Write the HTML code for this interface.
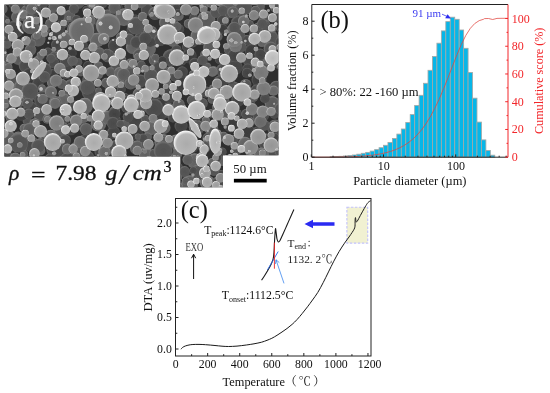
<!DOCTYPE html>
<html lang="en"><head><meta charset="utf-8"><title>Figure</title>
<style>
html,body{margin:0;padding:0;background:#fff;}
body{width:550px;height:393px;overflow:hidden;}
svg{display:block;}
text{font-family:"Liberation Serif","Noto Serif CJK SC",serif;}
.cjk{font-family:"Liberation Serif","Noto Serif CJK SC",serif;}
</style></head><body>
<svg width="550" height="393" viewBox="0 0 550 393">
<rect x="0" y="0" width="550" height="393" fill="#ffffff"/>

<defs>
<radialGradient id="s64" cx="0.53" cy="0.55" r="0.6"><stop offset="0" stop-color="rgb(59,59,59)"/><stop offset="0.68" stop-color="rgb(64,64,64)"/><stop offset="0.89" stop-color="rgb(92,92,92)"/><stop offset="1" stop-color="rgb(73,73,73)"/></radialGradient>
<radialGradient id="s72" cx="0.53" cy="0.55" r="0.6"><stop offset="0" stop-color="rgb(66,66,66)"/><stop offset="0.68" stop-color="rgb(72,72,72)"/><stop offset="0.89" stop-color="rgb(100,100,100)"/><stop offset="1" stop-color="rgb(80,80,80)"/></radialGradient>
<radialGradient id="s80" cx="0.53" cy="0.55" r="0.6"><stop offset="0" stop-color="rgb(74,74,74)"/><stop offset="0.68" stop-color="rgb(79,79,79)"/><stop offset="0.89" stop-color="rgb(108,108,108)"/><stop offset="1" stop-color="rgb(88,88,88)"/></radialGradient>
<radialGradient id="s88" cx="0.53" cy="0.55" r="0.6"><stop offset="0" stop-color="rgb(81,81,81)"/><stop offset="0.68" stop-color="rgb(87,87,87)"/><stop offset="0.89" stop-color="rgb(118,118,118)"/><stop offset="1" stop-color="rgb(97,97,97)"/></radialGradient>
<radialGradient id="s96" cx="0.53" cy="0.55" r="0.6"><stop offset="0" stop-color="rgb(89,89,89)"/><stop offset="0.68" stop-color="rgb(95,95,95)"/><stop offset="0.89" stop-color="rgb(127,127,127)"/><stop offset="1" stop-color="rgb(105,105,105)"/></radialGradient>
<radialGradient id="s104" cx="0.53" cy="0.55" r="0.6"><stop offset="0" stop-color="rgb(96,96,96)"/><stop offset="0.68" stop-color="rgb(103,103,103)"/><stop offset="0.89" stop-color="rgb(137,137,137)"/><stop offset="1" stop-color="rgb(114,114,114)"/></radialGradient>
<radialGradient id="s112" cx="0.53" cy="0.55" r="0.6"><stop offset="0" stop-color="rgb(104,104,104)"/><stop offset="0.68" stop-color="rgb(110,110,110)"/><stop offset="0.89" stop-color="rgb(148,148,148)"/><stop offset="1" stop-color="rgb(123,123,123)"/></radialGradient>
<radialGradient id="s120" cx="0.53" cy="0.55" r="0.6"><stop offset="0" stop-color="rgb(111,111,111)"/><stop offset="0.68" stop-color="rgb(118,118,118)"/><stop offset="0.89" stop-color="rgb(158,158,158)"/><stop offset="1" stop-color="rgb(132,132,132)"/></radialGradient>
<radialGradient id="s128" cx="0.53" cy="0.55" r="0.6"><stop offset="0" stop-color="rgb(119,119,119)"/><stop offset="0.68" stop-color="rgb(126,126,126)"/><stop offset="0.89" stop-color="rgb(170,170,170)"/><stop offset="1" stop-color="rgb(142,142,142)"/></radialGradient>
<radialGradient id="s136" cx="0.53" cy="0.55" r="0.6"><stop offset="0" stop-color="rgb(126,126,126)"/><stop offset="0.68" stop-color="rgb(134,134,134)"/><stop offset="0.89" stop-color="rgb(182,182,182)"/><stop offset="1" stop-color="rgb(151,151,151)"/></radialGradient>
<radialGradient id="s144" cx="0.53" cy="0.55" r="0.6"><stop offset="0" stop-color="rgb(134,134,134)"/><stop offset="0.68" stop-color="rgb(142,142,142)"/><stop offset="0.89" stop-color="rgb(194,194,194)"/><stop offset="1" stop-color="rgb(161,161,161)"/></radialGradient>
<radialGradient id="s152" cx="0.53" cy="0.55" r="0.6"><stop offset="0" stop-color="rgb(141,141,141)"/><stop offset="0.68" stop-color="rgb(151,151,151)"/><stop offset="0.89" stop-color="rgb(206,206,206)"/><stop offset="1" stop-color="rgb(171,171,171)"/></radialGradient>
<radialGradient id="s160" cx="0.53" cy="0.55" r="0.6"><stop offset="0" stop-color="rgb(149,149,149)"/><stop offset="0.68" stop-color="rgb(159,159,159)"/><stop offset="0.89" stop-color="rgb(219,219,219)"/><stop offset="1" stop-color="rgb(181,181,181)"/></radialGradient>
<radialGradient id="s168" cx="0.53" cy="0.55" r="0.6"><stop offset="0" stop-color="rgb(156,156,156)"/><stop offset="0.68" stop-color="rgb(167,167,167)"/><stop offset="0.89" stop-color="rgb(233,233,233)"/><stop offset="1" stop-color="rgb(192,192,192)"/></radialGradient>
<radialGradient id="s176" cx="0.53" cy="0.55" r="0.6"><stop offset="0" stop-color="rgb(164,164,164)"/><stop offset="0.68" stop-color="rgb(175,175,175)"/><stop offset="0.89" stop-color="rgb(247,247,247)"/><stop offset="1" stop-color="rgb(203,203,203)"/></radialGradient>
<radialGradient id="s184" cx="0.53" cy="0.55" r="0.6"><stop offset="0" stop-color="rgb(171,171,171)"/><stop offset="0.68" stop-color="rgb(183,183,183)"/><stop offset="0.89" stop-color="rgb(252,252,252)"/><stop offset="1" stop-color="rgb(213,213,213)"/></radialGradient>
<radialGradient id="s192" cx="0.53" cy="0.55" r="0.6"><stop offset="0" stop-color="rgb(179,179,179)"/><stop offset="0.68" stop-color="rgb(192,192,192)"/><stop offset="0.89" stop-color="rgb(252,252,252)"/><stop offset="1" stop-color="rgb(225,225,225)"/></radialGradient>
<radialGradient id="s200" cx="0.53" cy="0.55" r="0.6"><stop offset="0" stop-color="rgb(186,186,186)"/><stop offset="0.68" stop-color="rgb(200,200,200)"/><stop offset="0.89" stop-color="rgb(252,252,252)"/><stop offset="1" stop-color="rgb(236,236,236)"/></radialGradient>
<radialGradient id="s208" cx="0.53" cy="0.55" r="0.6"><stop offset="0" stop-color="rgb(194,194,194)"/><stop offset="0.68" stop-color="rgb(209,209,209)"/><stop offset="0.89" stop-color="rgb(252,252,252)"/><stop offset="1" stop-color="rgb(244,244,244)"/></radialGradient>
<clipPath id="semclip"><path d="M4.4 4.4 H278.4 V155.2 H223 V187.3 H180.3 V156.6 H4.4 Z"/></clipPath>
<filter id="sb" x="-5%" y="-5%" width="110%" height="110%"><feGaussianBlur stdDeviation="0.6"/></filter>
</defs>
<g id="sem" clip-path="url(#semclip)">
<rect x="0" y="0" width="285" height="190" fill="#2f2f2f"/>
<g filter="url(#sb)">
<circle cx="176.3" cy="142.4" r="8.0" fill="url(#s104)"/>
<circle cx="266.7" cy="142.1" r="8.6" fill="url(#s80)"/>
<circle cx="8.2" cy="89.4" r="8.7" fill="url(#s96)"/>
<circle cx="183.7" cy="173.0" r="4.6" fill="url(#s64)"/>
<circle cx="132.7" cy="47.3" r="6.7" fill="url(#s104)"/>
<circle cx="162.4" cy="2.5" r="5.1" fill="url(#s96)"/>
<circle cx="79.1" cy="175.9" r="7.8" fill="url(#s88)"/>
<circle cx="174.7" cy="24.3" r="4.0" fill="url(#s80)"/>
<circle cx="246.6" cy="40.2" r="5.1" fill="url(#s80)"/>
<circle cx="278.0" cy="167.5" r="5.4" fill="url(#s80)"/>
<circle cx="272.1" cy="103.5" r="7.4" fill="url(#s96)"/>
<circle cx="58.0" cy="180.7" r="7.5" fill="url(#s96)"/>
<circle cx="102.2" cy="31.9" r="4.7" fill="url(#s72)"/>
<circle cx="18.4" cy="57.9" r="7.0" fill="url(#s96)"/>
<circle cx="1.0" cy="130.2" r="5.7" fill="url(#s88)"/>
<circle cx="87.7" cy="157.2" r="6.4" fill="url(#s80)"/>
<circle cx="89.4" cy="92.4" r="7.5" fill="url(#s80)"/>
<circle cx="16.1" cy="187.2" r="4.1" fill="url(#s80)"/>
<circle cx="212.2" cy="162.2" r="4.1" fill="url(#s104)"/>
<circle cx="222.9" cy="70.3" r="6.9" fill="url(#s80)"/>
<circle cx="2.6" cy="9.0" r="4.9" fill="url(#s96)"/>
<circle cx="270.3" cy="37.7" r="7.8" fill="url(#s88)"/>
<circle cx="263.1" cy="180.9" r="5.7" fill="url(#s96)"/>
<circle cx="100.4" cy="100.7" r="7.9" fill="url(#s96)"/>
<circle cx="30.6" cy="143.7" r="8.0" fill="url(#s80)"/>
<circle cx="243.3" cy="7.0" r="8.7" fill="url(#s88)"/>
<circle cx="25.8" cy="65.4" r="7.1" fill="url(#s80)"/>
<circle cx="259.8" cy="65.3" r="8.6" fill="url(#s88)"/>
<circle cx="154.3" cy="60.0" r="5.6" fill="url(#s96)"/>
<circle cx="50.2" cy="15.0" r="4.7" fill="url(#s80)"/>
<circle cx="195.0" cy="191.4" r="4.8" fill="url(#s80)"/>
<circle cx="114.9" cy="45.6" r="7.0" fill="url(#s72)"/>
<circle cx="233.8" cy="87.5" r="6.1" fill="url(#s88)"/>
<circle cx="15.8" cy="175.9" r="4.2" fill="url(#s72)"/>
<circle cx="139.7" cy="161.0" r="4.7" fill="url(#s64)"/>
<circle cx="207.1" cy="182.4" r="7.2" fill="url(#s104)"/>
<circle cx="223.0" cy="20.5" r="6.2" fill="url(#s72)"/>
<circle cx="42.2" cy="162.2" r="5.5" fill="url(#s88)"/>
<circle cx="128.2" cy="191.9" r="8.3" fill="url(#s72)"/>
<circle cx="276.2" cy="87.1" r="6.4" fill="url(#s88)"/>
<circle cx="206.4" cy="92.0" r="5.5" fill="url(#s80)"/>
<circle cx="114.3" cy="28.1" r="5.9" fill="url(#s88)"/>
<circle cx="279.7" cy="184.3" r="7.1" fill="url(#s104)"/>
<circle cx="141.3" cy="65.0" r="4.4" fill="url(#s88)"/>
<circle cx="77.1" cy="150.1" r="8.3" fill="url(#s96)"/>
<circle cx="102.3" cy="150.9" r="7.9" fill="url(#s72)"/>
<circle cx="196.6" cy="127.5" r="7.8" fill="url(#s88)"/>
<circle cx="102.9" cy="135.3" r="5.4" fill="url(#s80)"/>
<circle cx="137.4" cy="147.8" r="7.5" fill="url(#s96)"/>
<circle cx="70.9" cy="129.0" r="6.3" fill="url(#s72)"/>
<circle cx="231.1" cy="124.3" r="8.0" fill="url(#s64)"/>
<circle cx="98.5" cy="123.7" r="7.7" fill="url(#s104)"/>
<circle cx="234.4" cy="67.2" r="8.2" fill="url(#s72)"/>
<circle cx="246.2" cy="132.2" r="8.9" fill="url(#s64)"/>
<circle cx="135.1" cy="132.8" r="7.6" fill="url(#s64)"/>
<circle cx="206.7" cy="33.0" r="7.9" fill="url(#s96)"/>
<circle cx="164.4" cy="127.8" r="6.1" fill="url(#s96)"/>
<circle cx="203.9" cy="5.3" r="4.8" fill="url(#s104)"/>
<circle cx="124.8" cy="124.8" r="5.1" fill="url(#s96)"/>
<circle cx="37.8" cy="60.9" r="4.9" fill="url(#s104)"/>
<circle cx="54.7" cy="6.8" r="6.3" fill="url(#s96)"/>
<circle cx="107.6" cy="117.5" r="7.0" fill="url(#s104)"/>
<circle cx="67.3" cy="173.4" r="4.0" fill="url(#s104)"/>
<circle cx="32.6" cy="159.6" r="5.9" fill="url(#s64)"/>
<circle cx="10.2" cy="117.8" r="4.5" fill="url(#s96)"/>
<circle cx="271.2" cy="157.2" r="6.1" fill="url(#s80)"/>
<circle cx="40.2" cy="114.4" r="6.8" fill="url(#s88)"/>
<circle cx="99.4" cy="171.5" r="4.0" fill="url(#s96)"/>
<circle cx="30.5" cy="108.6" r="7.1" fill="url(#s72)"/>
<circle cx="106.4" cy="82.9" r="5.1" fill="url(#s96)"/>
<circle cx="82.5" cy="186.7" r="5.9" fill="url(#s64)"/>
<circle cx="272.0" cy="175.4" r="7.0" fill="url(#s80)"/>
<circle cx="73.5" cy="188.3" r="6.5" fill="url(#s80)"/>
<circle cx="117.6" cy="61.3" r="8.9" fill="url(#s88)"/>
<circle cx="139.2" cy="55.0" r="6.4" fill="url(#s88)"/>
<circle cx="3.7" cy="102.3" r="5.4" fill="url(#s104)"/>
<circle cx="75.8" cy="29.7" r="8.9" fill="url(#s96)"/>
<circle cx="83.0" cy="116.7" r="6.4" fill="url(#s104)"/>
<circle cx="182.5" cy="115.9" r="7.7" fill="url(#s104)"/>
<circle cx="150.0" cy="89.2" r="5.8" fill="url(#s80)"/>
<circle cx="210.8" cy="113.4" r="4.2" fill="url(#s104)"/>
<circle cx="71.4" cy="87.5" r="8.6" fill="url(#s88)"/>
<circle cx="251.3" cy="104.8" r="4.1" fill="url(#s72)"/>
<circle cx="220.3" cy="82.1" r="6.9" fill="url(#s72)"/>
<circle cx="196.6" cy="83.1" r="5.4" fill="url(#s96)"/>
<circle cx="220.9" cy="174.8" r="4.7" fill="url(#s72)"/>
<circle cx="135.4" cy="105.4" r="6.5" fill="url(#s96)"/>
<circle cx="93.6" cy="29.5" r="6.9" fill="url(#s64)"/>
<circle cx="229.7" cy="13.1" r="5.2" fill="url(#s88)"/>
<circle cx="7.2" cy="138.7" r="8.9" fill="url(#s96)"/>
<circle cx="282.5" cy="134.6" r="4.2" fill="url(#s88)"/>
<circle cx="176.1" cy="8.4" r="4.5" fill="url(#s72)"/>
<circle cx="107.3" cy="13.8" r="4.3" fill="url(#s96)"/>
<circle cx="162.8" cy="142.5" r="8.4" fill="url(#s96)"/>
<circle cx="38.0" cy="82.9" r="5.6" fill="url(#s72)"/>
<circle cx="169.9" cy="94.0" r="8.7" fill="url(#s72)"/>
<circle cx="74.5" cy="105.9" r="5.3" fill="url(#s80)"/>
<circle cx="212.4" cy="99.3" r="4.7" fill="url(#s96)"/>
<circle cx="66.3" cy="71.3" r="7.7" fill="url(#s72)"/>
<circle cx="50.7" cy="137.0" r="7.3" fill="url(#s104)"/>
<circle cx="24.1" cy="128.2" r="4.5" fill="url(#s104)"/>
<circle cx="248.2" cy="92.2" r="5.6" fill="url(#s104)"/>
<circle cx="15.2" cy="29.0" r="8.8" fill="url(#s72)"/>
<circle cx="192.8" cy="42.8" r="4.6" fill="url(#s80)"/>
<circle cx="275.3" cy="127.7" r="8.1" fill="url(#s80)"/>
<circle cx="98.7" cy="74.1" r="4.7" fill="url(#s104)"/>
<circle cx="122.7" cy="163.5" r="6.6" fill="url(#s72)"/>
<circle cx="167.7" cy="110.1" r="7.7" fill="url(#s80)"/>
<circle cx="111.9" cy="18.6" r="4.2" fill="url(#s88)"/>
<circle cx="133.1" cy="170.8" r="7.1" fill="url(#s72)"/>
<circle cx="121.3" cy="89.4" r="4.5" fill="url(#s72)"/>
<circle cx="43.8" cy="30.5" r="5.9" fill="url(#s88)"/>
<circle cx="109.1" cy="169.0" r="4.8" fill="url(#s72)"/>
<circle cx="71.9" cy="53.3" r="4.8" fill="url(#s64)"/>
<circle cx="81.2" cy="45.2" r="6.4" fill="url(#s72)"/>
<circle cx="133.5" cy="181.5" r="4.6" fill="url(#s88)"/>
<circle cx="189.2" cy="55.9" r="7.4" fill="url(#s64)"/>
<circle cx="7.1" cy="44.3" r="4.4" fill="url(#s96)"/>
<circle cx="113.5" cy="186.9" r="5.8" fill="url(#s88)"/>
<circle cx="207.3" cy="137.8" r="4.8" fill="url(#s80)"/>
<circle cx="182.8" cy="82.7" r="8.9" fill="url(#s64)"/>
<circle cx="116.1" cy="8.6" r="6.7" fill="url(#s64)"/>
<circle cx="26.5" cy="13.7" r="8.5" fill="url(#s96)"/>
<circle cx="86.6" cy="9.9" r="4.2" fill="url(#s72)"/>
<circle cx="113.9" cy="102.0" r="4.4" fill="url(#s96)"/>
<circle cx="88.8" cy="20.7" r="6.7" fill="url(#s104)"/>
<circle cx="260.7" cy="114.9" r="8.3" fill="url(#s80)"/>
<circle cx="63.4" cy="22.2" r="5.6" fill="url(#s80)"/>
<circle cx="69.3" cy="16.2" r="6.1" fill="url(#s96)"/>
<circle cx="80.9" cy="71.8" r="4.5" fill="url(#s96)"/>
<circle cx="157.4" cy="172.0" r="7.3" fill="url(#s96)"/>
<circle cx="216.2" cy="107.0" r="4.1" fill="url(#s96)"/>
<circle cx="243.3" cy="182.3" r="7.1" fill="url(#s104)"/>
<circle cx="93.5" cy="2.4" r="6.9" fill="url(#s104)"/>
<circle cx="234.0" cy="139.6" r="4.5" fill="url(#s88)"/>
<circle cx="150.1" cy="32.9" r="7.5" fill="url(#s88)"/>
<circle cx="130.5" cy="83.4" r="6.2" fill="url(#s96)"/>
<circle cx="274.4" cy="114.4" r="4.5" fill="url(#s80)"/>
<circle cx="230.4" cy="80.5" r="4.3" fill="url(#s80)"/>
<circle cx="276.8" cy="6.3" r="6.9" fill="url(#s88)"/>
<circle cx="61.0" cy="53.2" r="5.0" fill="url(#s80)"/>
<circle cx="159.2" cy="68.5" r="7.8" fill="url(#s80)"/>
<circle cx="174.9" cy="77.0" r="4.7" fill="url(#s80)"/>
<circle cx="176.3" cy="153.7" r="5.9" fill="url(#s104)"/>
<circle cx="52.3" cy="74.7" r="5.6" fill="url(#s64)"/>
<circle cx="7.7" cy="59.9" r="5.9" fill="url(#s88)"/>
<circle cx="192.3" cy="100.3" r="5.4" fill="url(#s96)"/>
<circle cx="189.6" cy="183.7" r="8.5" fill="url(#s96)"/>
<circle cx="194.6" cy="160.9" r="7.7" fill="url(#s104)"/>
<circle cx="172.9" cy="40.1" r="6.6" fill="url(#s104)"/>
<circle cx="153.9" cy="75.5" r="4.0" fill="url(#s104)"/>
<circle cx="254.6" cy="174.8" r="7.1" fill="url(#s80)"/>
<circle cx="235.0" cy="168.7" r="7.6" fill="url(#s72)"/>
<circle cx="118.0" cy="81.7" r="6.6" fill="url(#s104)"/>
<circle cx="171.3" cy="185.6" r="4.9" fill="url(#s96)"/>
<circle cx="134.9" cy="19.4" r="5.0" fill="url(#s64)"/>
<circle cx="108.1" cy="55.8" r="6.5" fill="url(#s88)"/>
<circle cx="146.9" cy="9.7" r="6.1" fill="url(#s80)"/>
<circle cx="264.3" cy="17.6" r="5.8" fill="url(#s88)"/>
<circle cx="229.5" cy="1.0" r="7.8" fill="url(#s96)"/>
<circle cx="102.2" cy="3.2" r="5.3" fill="url(#s80)"/>
<circle cx="129.7" cy="73.5" r="6.6" fill="url(#s88)"/>
<circle cx="214.0" cy="171.2" r="4.7" fill="url(#s88)"/>
<circle cx="281.4" cy="41.6" r="6.1" fill="url(#s72)"/>
<circle cx="188.6" cy="23.7" r="4.8" fill="url(#s96)"/>
<circle cx="5.2" cy="159.0" r="8.8" fill="url(#s80)"/>
<circle cx="52.3" cy="82.4" r="5.3" fill="url(#s104)"/>
<circle cx="43.0" cy="99.5" r="8.9" fill="url(#s72)"/>
<circle cx="182.1" cy="72.0" r="5.8" fill="url(#s72)"/>
<circle cx="21.9" cy="86.2" r="7.7" fill="url(#s96)"/>
<circle cx="84.7" cy="105.9" r="8.1" fill="url(#s104)"/>
<circle cx="160.2" cy="39.8" r="6.3" fill="url(#s80)"/>
<circle cx="16.9" cy="16.9" r="5.7" fill="url(#s96)"/>
<circle cx="40.7" cy="185.8" r="5.3" fill="url(#s88)"/>
<circle cx="253.9" cy="34.0" r="4.7" fill="url(#s80)"/>
<circle cx="166.6" cy="22.6" r="7.6" fill="url(#s96)"/>
<circle cx="173.0" cy="117.5" r="5.1" fill="url(#s80)"/>
<circle cx="193.6" cy="17.8" r="4.3" fill="url(#s80)"/>
<circle cx="238.7" cy="23.1" r="7.8" fill="url(#s80)"/>
<circle cx="131.7" cy="29.8" r="5.1" fill="url(#s72)"/>
<circle cx="258.1" cy="27.9" r="5.3" fill="url(#s88)"/>
<circle cx="222.0" cy="160.5" r="5.5" fill="url(#s104)"/>
<circle cx="30.5" cy="49.8" r="5.8" fill="url(#s96)"/>
<circle cx="251.8" cy="50.8" r="7.1" fill="url(#s64)"/>
<circle cx="18.2" cy="137.6" r="6.1" fill="url(#s96)"/>
<circle cx="253.7" cy="97.2" r="4.5" fill="url(#s96)"/>
<circle cx="144.8" cy="179.2" r="8.7" fill="url(#s80)"/>
<circle cx="265.7" cy="89.5" r="6.2" fill="url(#s72)"/>
<circle cx="38.0" cy="38.9" r="7.5" fill="url(#s96)"/>
<circle cx="206.3" cy="19.7" r="9.0" fill="url(#s96)"/>
<circle cx="260.2" cy="54.2" r="5.7" fill="url(#s72)"/>
<circle cx="248.2" cy="25.5" r="6.1" fill="url(#s88)"/>
<circle cx="0.3" cy="181.2" r="5.6" fill="url(#s72)"/>
<circle cx="140.0" cy="0.2" r="8.0" fill="url(#s96)"/>
<circle cx="67.4" cy="159.2" r="7.3" fill="url(#s80)"/>
<circle cx="77.5" cy="1.9" r="7.3" fill="url(#s88)"/>
<circle cx="125.8" cy="131.7" r="4.3" fill="url(#s80)"/>
<circle cx="16.1" cy="2.8" r="7.8" fill="url(#s72)"/>
<circle cx="62.3" cy="0.6" r="6.1" fill="url(#s80)"/>
<circle cx="84.9" cy="139.9" r="5.9" fill="url(#s72)"/>
<circle cx="54.0" cy="62.9" r="5.3" fill="url(#s80)"/>
<circle cx="193.0" cy="147.7" r="5.0" fill="url(#s72)"/>
<circle cx="151.0" cy="161.3" r="5.8" fill="url(#s80)"/>
<circle cx="40.7" cy="55.3" r="4.0" fill="url(#s104)"/>
<circle cx="232.9" cy="44.1" r="5.5" fill="url(#s104)"/>
<circle cx="87.6" cy="130.1" r="4.6" fill="url(#s72)"/>
<circle cx="97.9" cy="181.4" r="4.4" fill="url(#s80)"/>
<circle cx="96.9" cy="40.1" r="7.4" fill="url(#s104)"/>
<circle cx="126.2" cy="140.9" r="4.2" fill="url(#s72)"/>
<circle cx="80.5" cy="126.1" r="4.2" fill="url(#s88)"/>
<circle cx="50.2" cy="91.1" r="5.6" fill="url(#s80)"/>
<circle cx="282.2" cy="25.0" r="7.7" fill="url(#s64)"/>
<circle cx="220.4" cy="58.8" r="5.7" fill="url(#s72)"/>
<circle cx="279.9" cy="151.3" r="5.1" fill="url(#s88)"/>
<circle cx="129.1" cy="6.2" r="4.6" fill="url(#s104)"/>
<circle cx="236.5" cy="150.3" r="5.3" fill="url(#s88)"/>
<circle cx="47.9" cy="51.8" r="4.3" fill="url(#s80)"/>
<circle cx="42.3" cy="1.7" r="6.9" fill="url(#s80)"/>
<circle cx="64.6" cy="39.4" r="7.3" fill="url(#s104)"/>
<circle cx="158.4" cy="116.2" r="7.3" fill="url(#s72)"/>
<circle cx="88.4" cy="53.6" r="6.4" fill="url(#s80)"/>
<circle cx="126.3" cy="107.6" r="5.0" fill="url(#s80)"/>
<circle cx="28.9" cy="178.4" r="4.1" fill="url(#s80)"/>
<circle cx="218.1" cy="183.6" r="7.1" fill="url(#s80)"/>
<circle cx="204.4" cy="146.9" r="6.3" fill="url(#s88)"/>
<circle cx="280.6" cy="62.2" r="7.6" fill="url(#s80)"/>
<circle cx="120.7" cy="175.4" r="8.7" fill="url(#s80)"/>
<circle cx="150.5" cy="128.2" r="7.2" fill="url(#s104)"/>
<circle cx="139.7" cy="94.8" r="7.3" fill="url(#s96)"/>
<circle cx="40.8" cy="150.8" r="4.5" fill="url(#s104)"/>
<circle cx="147.5" cy="70.4" r="4.7" fill="url(#s72)"/>
<circle cx="66.1" cy="60.2" r="6.5" fill="url(#s80)"/>
<circle cx="188.0" cy="9.7" r="6.1" fill="url(#s72)"/>
<circle cx="236.8" cy="113.9" r="5.0" fill="url(#s72)"/>
<circle cx="257.1" cy="130.7" r="4.2" fill="url(#s72)"/>
<circle cx="98.4" cy="66.3" r="4.9" fill="url(#s104)"/>
<circle cx="63.7" cy="99.1" r="5.9" fill="url(#s104)"/>
<circle cx="8.8" cy="169.0" r="4.5" fill="url(#s80)"/>
<circle cx="121.1" cy="37.3" r="5.1" fill="url(#s96)"/>
<circle cx="223.5" cy="136.7" r="5.0" fill="url(#s96)"/>
<circle cx="194.5" cy="63.1" r="5.3" fill="url(#s72)"/>
<circle cx="235.5" cy="55.2" r="7.1" fill="url(#s80)"/>
<circle cx="140.5" cy="81.0" r="6.4" fill="url(#s80)"/>
<circle cx="206.8" cy="67.1" r="4.6" fill="url(#s96)"/>
<circle cx="61.0" cy="128.3" r="7.5" fill="url(#s96)"/>
<circle cx="223.7" cy="113.0" r="8.9" fill="url(#s96)"/>
<circle cx="64.7" cy="140.4" r="6.2" fill="url(#s80)"/>
<circle cx="193.1" cy="74.3" r="4.2" fill="url(#s96)"/>
<circle cx="245.0" cy="160.2" r="4.0" fill="url(#s72)"/>
<circle cx="196.8" cy="35.4" r="6.2" fill="url(#s104)"/>
<circle cx="147.9" cy="49.0" r="7.9" fill="url(#s104)"/>
<circle cx="234.0" cy="107.2" r="5.3" fill="url(#s104)"/>
<circle cx="40.6" cy="143.0" r="5.0" fill="url(#s88)"/>
<circle cx="47.2" cy="119.0" r="4.7" fill="url(#s96)"/>
<circle cx="119.7" cy="72.9" r="6.0" fill="url(#s104)"/>
<circle cx="178.5" cy="15.9" r="5.1" fill="url(#s104)"/>
<circle cx="140.7" cy="37.9" r="6.2" fill="url(#s80)"/>
<circle cx="177.5" cy="168.6" r="5.9" fill="url(#s80)"/>
<circle cx="152.3" cy="107.9" r="7.3" fill="url(#s104)"/>
<circle cx="41.1" cy="130.8" r="5.3" fill="url(#s96)"/>
<circle cx="49.8" cy="183.8" r="4.2" fill="url(#s80)"/>
<circle cx="55.2" cy="149.1" r="8.9" fill="url(#s80)"/>
<circle cx="240.9" cy="46.9" r="5.5" fill="url(#s88)"/>
<circle cx="140.8" cy="25.4" r="5.1" fill="url(#s96)"/>
<circle cx="171.1" cy="57.7" r="8.6" fill="url(#s80)"/>
<circle cx="43.0" cy="70.7" r="8.8" fill="url(#s80)"/>
<circle cx="29.5" cy="3.4" r="5.7" fill="url(#s80)"/>
<circle cx="161.6" cy="161.6" r="6.5" fill="url(#s72)"/>
<circle cx="230.6" cy="160.1" r="6.0" fill="url(#s96)"/>
<circle cx="0.6" cy="51.2" r="6.0" fill="url(#s80)"/>
<circle cx="239.0" cy="34.2" r="6.0" fill="url(#s88)"/>
<circle cx="268.1" cy="60.5" r="4.6" fill="url(#s104)"/>
<circle cx="135.7" cy="118.1" r="8.9" fill="url(#s72)"/>
<circle cx="114.6" cy="111.5" r="5.4" fill="url(#s104)"/>
<circle cx="238.3" cy="99.7" r="6.9" fill="url(#s72)"/>
<circle cx="260.6" cy="6.7" r="4.2" fill="url(#s96)"/>
<circle cx="164.6" cy="177.0" r="5.0" fill="url(#s80)"/>
<circle cx="160.8" cy="185.7" r="7.3" fill="url(#s72)"/>
<circle cx="30.6" cy="25.8" r="8.5" fill="url(#s96)"/>
<circle cx="109.6" cy="89.5" r="4.8" fill="url(#s72)"/>
<circle cx="54.0" cy="55.9" r="4.3" fill="url(#s88)"/>
<circle cx="34.2" cy="171.5" r="5.6" fill="url(#s72)"/>
<circle cx="265.0" cy="98.4" r="4.9" fill="url(#s80)"/>
<circle cx="248.4" cy="60.7" r="5.4" fill="url(#s80)"/>
<circle cx="272.3" cy="28.3" r="4.5" fill="url(#s104)"/>
<circle cx="8.3" cy="67.3" r="4.1" fill="url(#s104)"/>
<circle cx="202.4" cy="41.0" r="4.1" fill="url(#s96)"/>
<circle cx="2.0" cy="23.4" r="8.8" fill="url(#s72)"/>
<circle cx="181.6" cy="60.7" r="4.9" fill="url(#s72)"/>
<circle cx="58.3" cy="165.8" r="5.6" fill="url(#s104)"/>
<circle cx="215.6" cy="12.3" r="5.6" fill="url(#s88)"/>
<circle cx="223.2" cy="100.2" r="6.0" fill="url(#s96)"/>
<circle cx="211.3" cy="128.3" r="6.9" fill="url(#s96)"/>
<circle cx="26.9" cy="120.9" r="4.2" fill="url(#s88)"/>
<circle cx="93.3" cy="169.0" r="5.1" fill="url(#s88)"/>
<circle cx="28.3" cy="96.5" r="6.2" fill="url(#s96)"/>
<circle cx="2.6" cy="76.8" r="5.9" fill="url(#s72)"/>
<circle cx="259.1" cy="79.6" r="7.5" fill="url(#s64)"/>
<circle cx="154.7" cy="99.4" r="4.1" fill="url(#s72)"/>
<circle cx="66.4" cy="116.6" r="6.3" fill="url(#s80)"/>
<circle cx="145.7" cy="154.1" r="6.9" fill="url(#s104)"/>
<circle cx="100.4" cy="21.7" r="5.8" fill="url(#s72)"/>
<circle cx="55.0" cy="35.9" r="4.9" fill="url(#s72)"/>
<circle cx="6.2" cy="0.0" r="4.2" fill="url(#s72)"/>
<circle cx="29.4" cy="74.8" r="7.0" fill="url(#s64)"/>
<circle cx="59.0" cy="15.6" r="5.7" fill="url(#s64)"/>
<circle cx="249.5" cy="121.9" r="5.3" fill="url(#s96)"/>
<circle cx="49.9" cy="23.3" r="4.6" fill="url(#s96)"/>
<circle cx="50.0" cy="172.1" r="4.6" fill="url(#s96)"/>
<circle cx="244.9" cy="143.5" r="6.8" fill="url(#s104)"/>
<circle cx="10.3" cy="108.0" r="5.1" fill="url(#s72)"/>
<circle cx="205.8" cy="120.7" r="4.1" fill="url(#s104)"/>
<circle cx="160.7" cy="102.5" r="4.9" fill="url(#s64)"/>
<circle cx="117.1" cy="148.5" r="8.9" fill="url(#s80)"/>
<circle cx="144.9" cy="118.8" r="4.1" fill="url(#s88)"/>
<circle cx="62.4" cy="191.9" r="6.8" fill="url(#s104)"/>
<circle cx="273.7" cy="190.9" r="4.6" fill="url(#s72)"/>
<circle cx="211.0" cy="47.9" r="7.9" fill="url(#s96)"/>
<circle cx="176.4" cy="49.7" r="5.0" fill="url(#s80)"/>
<circle cx="21.6" cy="147.0" r="5.4" fill="url(#s96)"/>
<circle cx="15.3" cy="158.1" r="5.6" fill="url(#s104)"/>
<circle cx="245.6" cy="84.6" r="5.7" fill="url(#s88)"/>
<circle cx="29.8" cy="132.3" r="5.3" fill="url(#s104)"/>
<circle cx="231.6" cy="29.5" r="5.1" fill="url(#s104)"/>
<circle cx="120.9" cy="137.8" r="4.0" fill="url(#s104)"/>
<circle cx="204.5" cy="54.3" r="4.1" fill="url(#s96)"/>
<circle cx="21.3" cy="114.7" r="6.0" fill="url(#s64)"/>
<circle cx="89.5" cy="79.9" r="7.2" fill="url(#s80)"/>
<circle cx="281.9" cy="98.6" r="4.2" fill="url(#s88)"/>
<circle cx="201.0" cy="76.4" r="4.8" fill="url(#s80)"/>
<circle cx="80.4" cy="37.6" r="4.1" fill="url(#s72)"/>
<circle cx="178.7" cy="187.1" r="4.3" fill="url(#s104)"/>
<circle cx="233.3" cy="187.1" r="5.1" fill="url(#s96)"/>
<circle cx="198.2" cy="172.2" r="7.7" fill="url(#s88)"/>
<circle cx="169.1" cy="7.9" r="4.4" fill="url(#s104)"/>
<circle cx="130.4" cy="63.6" r="5.0" fill="url(#s96)"/>
<circle cx="215.0" cy="89.8" r="6.4" fill="url(#s96)"/>
<circle cx="214.8" cy="142.7" r="5.2" fill="url(#s96)"/>
<circle cx="186.2" cy="47.0" r="4.1" fill="url(#s72)"/>
<circle cx="168.9" cy="150.6" r="4.7" fill="url(#s64)"/>
<circle cx="74.8" cy="121.6" r="4.6" fill="url(#s64)"/>
<circle cx="165.9" cy="33.3" r="5.3" fill="url(#s72)"/>
<circle cx="24.2" cy="169.0" r="9.0" fill="url(#s96)"/>
<circle cx="218.9" cy="0.2" r="5.0" fill="url(#s96)"/>
<circle cx="110.3" cy="71.9" r="4.6" fill="url(#s96)"/>
<circle cx="189.4" cy="135.6" r="4.2" fill="url(#s72)"/>
<circle cx="253.6" cy="141.3" r="4.7" fill="url(#s72)"/>
<circle cx="79.3" cy="163.3" r="7.8" fill="url(#s88)"/>
<circle cx="197.7" cy="116.6" r="4.1" fill="url(#s72)"/>
<circle cx="255.5" cy="10.3" r="4.5" fill="url(#s96)"/>
<circle cx="266.4" cy="169.0" r="5.1" fill="url(#s96)"/>
<circle cx="87.7" cy="65.7" r="4.6" fill="url(#s64)"/>
<circle cx="55.2" cy="102.4" r="6.3" fill="url(#s96)"/>
<circle cx="280.2" cy="108.6" r="5.9" fill="url(#s88)"/>
<circle cx="108.3" cy="176.5" r="4.5" fill="url(#s80)"/>
<circle cx="225.9" cy="188.1" r="4.6" fill="url(#s72)"/>
<circle cx="283.0" cy="122.5" r="4.6" fill="url(#s80)"/>
<circle cx="48.1" cy="109.5" r="4.4" fill="url(#s72)"/>
<circle cx="276.3" cy="16.4" r="4.1" fill="url(#s80)"/>
<circle cx="0.4" cy="173.1" r="5.9" fill="url(#s64)"/>
<circle cx="6.2" cy="35.6" r="5.9" fill="url(#s80)"/>
<circle cx="261.4" cy="154.7" r="7.3" fill="url(#s104)"/>
<circle cx="145.8" cy="144.0" r="4.7" fill="url(#s88)"/>
<circle cx="247.4" cy="68.4" r="4.9" fill="url(#s72)"/>
<circle cx="228.5" cy="50.0" r="4.5" fill="url(#s88)"/>
<circle cx="255.2" cy="187.1" r="4.1" fill="url(#s96)"/>
<circle cx="8.4" cy="187.2" r="5.1" fill="url(#s88)"/>
<circle cx="202.1" cy="103.4" r="5.6" fill="url(#s88)"/>
<circle cx="265.5" cy="25.2" r="4.9" fill="url(#s88)"/>
<circle cx="181.0" cy="126.0" r="6.5" fill="url(#s72)"/>
<circle cx="191.2" cy="90.4" r="4.2" fill="url(#s104)"/>
<circle cx="113.5" cy="132.5" r="6.5" fill="url(#s72)"/>
<circle cx="214.0" cy="70.8" r="4.5" fill="url(#s88)"/>
<circle cx="262.0" cy="42.3" r="4.8" fill="url(#s104)"/>
<circle cx="179.2" cy="29.2" r="4.9" fill="url(#s72)"/>
<circle cx="59.8" cy="29.1" r="5.0" fill="url(#s72)"/>
<circle cx="270.5" cy="48.4" r="6.8" fill="url(#s88)"/>
<circle cx="76.2" cy="19.4" r="4.5" fill="url(#s80)"/>
<circle cx="35.9" cy="10.5" r="5.4" fill="url(#s80)"/>
<circle cx="19.2" cy="47.3" r="4.5" fill="url(#s88)"/>
<circle cx="94.0" cy="143.1" r="5.8" fill="url(#s72)"/>
<circle cx="62.0" cy="84.0" r="4.9" fill="url(#s96)"/>
<circle cx="78.0" cy="62.4" r="4.2" fill="url(#s88)"/>
<circle cx="263.8" cy="125.3" r="5.7" fill="url(#s88)"/>
<circle cx="185.9" cy="145.5" r="5.3" fill="url(#s72)"/>
<circle cx="195.6" cy="108.7" r="4.3" fill="url(#s96)"/>
<circle cx="117.5" cy="95.9" r="4.5" fill="url(#s88)"/>
<circle cx="224.6" cy="91.0" r="4.1" fill="url(#s72)"/>
<circle cx="266.1" cy="190.4" r="5.3" fill="url(#s80)"/>
<circle cx="222.5" cy="29.0" r="4.9" fill="url(#s64)"/>
<circle cx="0.7" cy="113.1" r="6.9" fill="url(#s96)"/>
<circle cx="178.7" cy="104.7" r="6.1" fill="url(#s96)"/>
<circle cx="147.3" cy="137.0" r="4.5" fill="url(#s96)"/>
<circle cx="170.1" cy="70.7" r="4.5" fill="url(#s72)"/>
<circle cx="176.7" cy="177.5" r="5.2" fill="url(#s104)"/>
<circle cx="24.0" cy="153.9" r="4.2" fill="url(#s96)"/>
<circle cx="99.3" cy="53.1" r="5.8" fill="url(#s96)"/>
<circle cx="155.1" cy="13.3" r="6.7" fill="url(#s88)"/>
<circle cx="253.6" cy="148.9" r="5.1" fill="url(#s96)"/>
<circle cx="12.2" cy="78.3" r="5.3" fill="url(#s88)"/>
<circle cx="184.1" cy="1.2" r="5.1" fill="url(#s64)"/>
<circle cx="124.0" cy="17.1" r="8.8" fill="url(#s104)"/>
<circle cx="256.0" cy="89.3" r="4.8" fill="url(#s80)"/>
<circle cx="49.8" cy="158.6" r="5.0" fill="url(#s80)"/>
<circle cx="20.0" cy="101.9" r="5.1" fill="url(#s96)"/>
<circle cx="246.8" cy="114.1" r="5.6" fill="url(#s80)"/>
<circle cx="128.9" cy="39.2" r="5.7" fill="url(#s88)"/>
<circle cx="222.0" cy="152.0" r="4.6" fill="url(#s80)"/>
<circle cx="141.1" cy="110.5" r="4.3" fill="url(#s88)"/>
<circle cx="167.3" cy="83.3" r="4.2" fill="url(#s104)"/>
<circle cx="162.4" cy="60.3" r="4.3" fill="url(#s64)"/>
<circle cx="274.7" cy="137.4" r="4.3" fill="url(#s72)"/>
<circle cx="56.9" cy="44.6" r="5.8" fill="url(#s72)"/>
<circle cx="217.4" cy="36.5" r="5.1" fill="url(#s96)"/>
<circle cx="116.5" cy="120.1" r="4.1" fill="url(#s80)"/>
<circle cx="252.0" cy="161.3" r="4.8" fill="url(#s104)"/>
<circle cx="154.0" cy="153.6" r="4.9" fill="url(#s88)"/>
<circle cx="34.8" cy="123.6" r="5.4" fill="url(#s104)"/>
<circle cx="124.9" cy="97.1" r="4.2" fill="url(#s80)"/>
<circle cx="211.8" cy="2.7" r="5.2" fill="url(#s104)"/>
<circle cx="252.2" cy="164.4" r="3.3" fill="url(#s176)"/>
<circle cx="234.0" cy="186.1" r="3.0" fill="url(#s160)"/>
<circle cx="123.6" cy="179.3" r="3.9" fill="url(#s168)"/>
<circle cx="111.5" cy="171.9" r="3.1" fill="url(#s176)"/>
<circle cx="133.6" cy="160.0" r="3.7" fill="url(#s120)"/>
<circle cx="276.7" cy="163.4" r="3.0" fill="url(#s144)"/>
<circle cx="271.8" cy="176.3" r="3.6" fill="url(#s160)"/>
<circle cx="23.5" cy="166.7" r="2.5" fill="url(#s160)"/>
<circle cx="121.5" cy="184.5" r="2.7" fill="url(#s144)"/>
<circle cx="90.4" cy="173.3" r="2.4" fill="url(#s152)"/>
<circle cx="281.0" cy="66.2" r="3.5" fill="url(#s152)"/>
<circle cx="53.8" cy="49.4" r="2.3" fill="url(#s136)"/>
<circle cx="10.8" cy="178.8" r="2.2" fill="url(#s128)"/>
<circle cx="226.1" cy="46.2" r="3.0" fill="url(#s144)"/>
<circle cx="194.6" cy="126.9" r="3.9" fill="url(#s176)"/>
<circle cx="58.6" cy="169.4" r="2.9" fill="url(#s152)"/>
<circle cx="106.2" cy="175.8" r="3.5" fill="url(#s152)"/>
<circle cx="235.3" cy="155.4" r="2.7" fill="url(#s176)"/>
<circle cx="49.7" cy="164.9" r="3.2" fill="url(#s160)"/>
<circle cx="224.9" cy="121.4" r="3.9" fill="url(#s160)"/>
<circle cx="144.8" cy="151.2" r="2.2" fill="url(#s128)"/>
<circle cx="281.3" cy="101.9" r="2.6" fill="url(#s176)"/>
<circle cx="28.1" cy="161.6" r="3.7" fill="url(#s120)"/>
<circle cx="57.2" cy="159.8" r="2.7" fill="url(#s144)"/>
<circle cx="3.0" cy="62.9" r="2.4" fill="url(#s144)"/>
<circle cx="140.0" cy="0.8" r="2.7" fill="url(#s168)"/>
<circle cx="113.1" cy="166.2" r="2.8" fill="url(#s184)"/>
<circle cx="47.0" cy="181.8" r="2.9" fill="url(#s128)"/>
<circle cx="36.3" cy="189.2" r="3.0" fill="url(#s168)"/>
<circle cx="89.8" cy="183.5" r="2.3" fill="url(#s160)"/>
<circle cx="20.3" cy="162.0" r="3.4" fill="url(#s144)"/>
<circle cx="281.5" cy="164.7" r="3.0" fill="url(#s120)"/>
<circle cx="76.3" cy="156.2" r="3.6" fill="url(#s136)"/>
<circle cx="254.0" cy="191.5" r="2.8" fill="url(#s144)"/>
<circle cx="261.2" cy="177.8" r="3.1" fill="url(#s152)"/>
<circle cx="71.3" cy="179.4" r="2.0" fill="url(#s128)"/>
<circle cx="255.9" cy="49.0" r="2.3" fill="url(#s160)"/>
<circle cx="19.0" cy="168.6" r="2.1" fill="url(#s144)"/>
<circle cx="151.0" cy="189.6" r="3.2" fill="url(#s168)"/>
<circle cx="158.9" cy="171.9" r="3.9" fill="url(#s160)"/>
<circle cx="76.7" cy="189.3" r="2.8" fill="url(#s144)"/>
<circle cx="141.0" cy="180.0" r="3.2" fill="url(#s128)"/>
<circle cx="267.4" cy="162.1" r="3.1" fill="url(#s144)"/>
<circle cx="226.3" cy="31.7" r="2.2" fill="url(#s144)"/>
<circle cx="15.5" cy="190.9" r="3.2" fill="url(#s168)"/>
<circle cx="275.9" cy="189.1" r="3.2" fill="url(#s120)"/>
<circle cx="127.8" cy="169.7" r="3.9" fill="url(#s144)"/>
<circle cx="0.4" cy="43.7" r="3.3" fill="url(#s136)"/>
<circle cx="68.8" cy="17.9" r="2.2" fill="url(#s128)"/>
<circle cx="149.2" cy="171.6" r="2.7" fill="url(#s176)"/>
<circle cx="116.1" cy="169.2" r="3.1" fill="url(#s160)"/>
<circle cx="129.8" cy="188.1" r="3.3" fill="url(#s160)"/>
<circle cx="104.8" cy="191.6" r="3.2" fill="url(#s160)"/>
<circle cx="87.3" cy="159.2" r="2.3" fill="url(#s168)"/>
<circle cx="160.1" cy="166.3" r="2.1" fill="url(#s176)"/>
<circle cx="274.0" cy="0.7" r="3.1" fill="url(#s168)"/>
<circle cx="216.1" cy="185.0" r="4.0" fill="url(#s168)"/>
<circle cx="0.2" cy="58.2" r="3.0" fill="url(#s136)"/>
<circle cx="34.8" cy="179.7" r="2.9" fill="url(#s136)"/>
<circle cx="240.2" cy="179.6" r="3.2" fill="url(#s160)"/>
<circle cx="219.1" cy="2.7" r="3.0" fill="url(#s168)"/>
<circle cx="134.6" cy="6.5" r="3.7" fill="url(#s152)"/>
<circle cx="37.0" cy="2.1" r="2.1" fill="url(#s184)"/>
<circle cx="19.8" cy="184.1" r="3.1" fill="url(#s136)"/>
<circle cx="47.3" cy="173.6" r="2.2" fill="url(#s128)"/>
<circle cx="229.8" cy="156.5" r="2.3" fill="url(#s184)"/>
<circle cx="247.5" cy="167.6" r="3.2" fill="url(#s128)"/>
<circle cx="177.7" cy="157.7" r="2.3" fill="url(#s128)"/>
<circle cx="281.1" cy="179.4" r="2.4" fill="url(#s160)"/>
<circle cx="175.8" cy="1.4" r="3.2" fill="url(#s160)"/>
<circle cx="259.8" cy="160.1" r="3.1" fill="url(#s168)"/>
<circle cx="279.9" cy="47.1" r="3.3" fill="url(#s144)"/>
<circle cx="55.0" cy="175.6" r="3.3" fill="url(#s168)"/>
<circle cx="55.6" cy="190.8" r="2.8" fill="url(#s184)"/>
<circle cx="70.3" cy="163.1" r="4.0" fill="url(#s136)"/>
<circle cx="6.0" cy="105.6" r="2.6" fill="url(#s128)"/>
<circle cx="241.8" cy="168.1" r="2.1" fill="url(#s168)"/>
<circle cx="262.3" cy="152.9" r="3.3" fill="url(#s136)"/>
<circle cx="18.8" cy="23.9" r="2.6" fill="url(#s160)"/>
<circle cx="45.8" cy="167.7" r="3.1" fill="url(#s184)"/>
<circle cx="67.9" cy="191.6" r="2.5" fill="url(#s168)"/>
<circle cx="257.3" cy="187.7" r="2.6" fill="url(#s168)"/>
<circle cx="54.8" cy="183.6" r="3.5" fill="url(#s136)"/>
<circle cx="177.3" cy="173.9" r="2.2" fill="url(#s120)"/>
<circle cx="64.3" cy="172.0" r="3.4" fill="url(#s128)"/>
<circle cx="70.6" cy="99.5" r="3.4" fill="url(#s152)"/>
<circle cx="282.0" cy="37.2" r="3.5" fill="url(#s144)"/>
<circle cx="77.7" cy="166.0" r="3.3" fill="url(#s136)"/>
<circle cx="264.6" cy="170.3" r="3.1" fill="url(#s152)"/>
<circle cx="101.5" cy="179.6" r="3.7" fill="url(#s152)"/>
<circle cx="123.4" cy="190.3" r="3.4" fill="url(#s160)"/>
<circle cx="20.5" cy="188.5" r="2.8" fill="url(#s152)"/>
<circle cx="167.7" cy="163.5" r="2.1" fill="url(#s152)"/>
<circle cx="1.1" cy="103.3" r="3.1" fill="url(#s136)"/>
<circle cx="255.9" cy="159.1" r="2.5" fill="url(#s136)"/>
<circle cx="173.8" cy="160.8" r="3.1" fill="url(#s128)"/>
<circle cx="16.7" cy="174.5" r="3.6" fill="url(#s168)"/>
<circle cx="51.3" cy="191.1" r="2.9" fill="url(#s184)"/>
<circle cx="231.7" cy="180.4" r="3.9" fill="url(#s160)"/>
<circle cx="238.7" cy="185.2" r="3.3" fill="url(#s144)"/>
<circle cx="32.0" cy="71.3" r="2.0" fill="url(#s168)"/>
<circle cx="165.6" cy="86.4" r="2.7" fill="url(#s144)"/>
<circle cx="271.1" cy="171.6" r="2.8" fill="url(#s168)"/>
<circle cx="209.6" cy="58.7" r="2.1" fill="url(#s152)"/>
<circle cx="174.6" cy="170.3" r="3.2" fill="url(#s160)"/>
<circle cx="136.6" cy="190.8" r="3.3" fill="url(#s168)"/>
<circle cx="7.6" cy="21.4" r="2.4" fill="url(#s120)"/>
<circle cx="235.4" cy="3.1" r="2.5" fill="url(#s144)"/>
<circle cx="12.2" cy="186.2" r="2.4" fill="url(#s184)"/>
<circle cx="262.6" cy="187.3" r="2.2" fill="url(#s120)"/>
<circle cx="247.0" cy="191.1" r="3.3" fill="url(#s144)"/>
<circle cx="40.7" cy="183.4" r="3.0" fill="url(#s168)"/>
<circle cx="272.1" cy="5.4" r="2.8" fill="url(#s176)"/>
<circle cx="283.0" cy="183.7" r="2.0" fill="url(#s144)"/>
<circle cx="125.8" cy="160.9" r="3.0" fill="url(#s168)"/>
<circle cx="282.3" cy="145.6" r="3.3" fill="url(#s176)"/>
<circle cx="92.0" cy="4.1" r="3.3" fill="url(#s152)"/>
<circle cx="217.8" cy="133.0" r="3.5" fill="url(#s128)"/>
<circle cx="111.2" cy="160.0" r="3.2" fill="url(#s136)"/>
<circle cx="149.0" cy="159.3" r="3.4" fill="url(#s176)"/>
<circle cx="0.1" cy="29.0" r="3.1" fill="url(#s120)"/>
<circle cx="220.8" cy="187.1" r="2.1" fill="url(#s176)"/>
<circle cx="138.9" cy="161.3" r="3.6" fill="url(#s136)"/>
<circle cx="0.5" cy="34.4" r="2.7" fill="url(#s176)"/>
<circle cx="136.9" cy="2.2" r="2.2" fill="url(#s144)"/>
<circle cx="159.4" cy="192.0" r="3.8" fill="url(#s152)"/>
<circle cx="246.2" cy="174.6" r="3.0" fill="url(#s136)"/>
<circle cx="167.6" cy="180.8" r="2.1" fill="url(#s160)"/>
<circle cx="190.6" cy="51.9" r="3.6" fill="url(#s160)"/>
<circle cx="152.3" cy="174.2" r="2.1" fill="url(#s168)"/>
<circle cx="233.4" cy="165.2" r="3.3" fill="url(#s168)"/>
<circle cx="97.8" cy="82.9" r="3.8" fill="url(#s152)"/>
<circle cx="3.3" cy="37.7" r="2.2" fill="url(#s120)"/>
<circle cx="17.4" cy="180.8" r="2.7" fill="url(#s176)"/>
<circle cx="41.8" cy="62.5" r="2.0" fill="url(#s184)"/>
<circle cx="67.4" cy="118.8" r="2.8" fill="url(#s136)"/>
<circle cx="136.8" cy="70.9" r="3.7" fill="url(#s176)"/>
<circle cx="256.4" cy="182.9" r="2.5" fill="url(#s144)"/>
<circle cx="93.8" cy="188.2" r="3.9" fill="url(#s144)"/>
<circle cx="235.2" cy="176.8" r="3.3" fill="url(#s184)"/>
<circle cx="151.7" cy="14.5" r="2.2" fill="url(#s144)"/>
<circle cx="155.1" cy="178.7" r="3.8" fill="url(#s152)"/>
<circle cx="278.7" cy="183.0" r="3.4" fill="url(#s128)"/>
<circle cx="280.4" cy="29.3" r="2.0" fill="url(#s128)"/>
<circle cx="22.7" cy="154.6" r="2.6" fill="url(#s136)"/>
<circle cx="120.9" cy="84.8" r="3.2" fill="url(#s144)"/>
<circle cx="68.4" cy="169.3" r="2.0" fill="url(#s120)"/>
<circle cx="237.8" cy="172.9" r="2.3" fill="url(#s128)"/>
<circle cx="109.5" cy="180.1" r="3.7" fill="url(#s184)"/>
<circle cx="132.0" cy="182.9" r="2.5" fill="url(#s144)"/>
<circle cx="234.2" cy="55.1" r="6.4" fill="url(#s72)"/>
<circle cx="246.9" cy="72.9" r="5.1" fill="url(#s72)"/>
<circle cx="114.3" cy="113.7" r="6.1" fill="url(#s72)"/>
<circle cx="153.7" cy="107.6" r="9.2" fill="url(#s80)"/>
<circle cx="216.9" cy="157.3" r="4.6" fill="url(#s72)"/>
<circle cx="150.2" cy="42.0" r="5.1" fill="url(#s72)"/>
<circle cx="178.2" cy="12.7" r="3.8" fill="url(#s72)"/>
<circle cx="136.2" cy="42.0" r="6.1" fill="url(#s80)"/>
<circle cx="145.1" cy="38.2" r="6.4" fill="url(#s80)"/>
<circle cx="112.7" cy="122.9" r="6.1" fill="url(#s80)"/>
<circle cx="128.0" cy="116.8" r="5.3" fill="url(#s80)"/>
<circle cx="143.1" cy="138.2" r="4.6" fill="url(#s80)"/>
<circle cx="193.2" cy="170.3" r="3.7" fill="url(#s80)"/>
<circle cx="136.2" cy="25.5" r="8.9" fill="url(#s88)"/>
<circle cx="18.3" cy="142.7" r="9.9" fill="url(#s88)"/>
<circle cx="162.9" cy="150.4" r="9.2" fill="url(#s88)"/>
<circle cx="29.9" cy="90.7" r="8.3" fill="url(#s88)"/>
<circle cx="73.8" cy="8.9" r="5.1" fill="url(#s88)"/>
<circle cx="50.9" cy="58.3" r="4.5" fill="url(#s88)"/>
<circle cx="222.7" cy="10.2" r="5.1" fill="url(#s88)"/>
<circle cx="87.2" cy="86.9" r="7.6" fill="url(#s88)"/>
<circle cx="106.9" cy="52.5" r="3.8" fill="url(#s88)"/>
<circle cx="202.4" cy="60.2" r="5.1" fill="url(#s88)"/>
<circle cx="38.2" cy="145.8" r="6.9" fill="url(#s88)"/>
<circle cx="27.5" cy="103.1" r="5.3" fill="url(#s88)"/>
<circle cx="120.4" cy="123.7" r="3.8" fill="url(#s88)"/>
<circle cx="234.2" cy="27.4" r="5.7" fill="url(#s88)"/>
<circle cx="262.2" cy="23.5" r="5.1" fill="url(#s88)"/>
<circle cx="44.5" cy="76.7" r="5.7" fill="url(#s88)"/>
<circle cx="150.8" cy="75.5" r="7.0" fill="url(#s88)"/>
<circle cx="29.0" cy="113.7" r="5.3" fill="url(#s88)"/>
<circle cx="184.6" cy="171.4" r="5.3" fill="url(#s88)"/>
<circle cx="31.8" cy="43.3" r="3.8" fill="url(#s96)"/>
<circle cx="114.5" cy="7.6" r="6.1" fill="url(#s96)"/>
<circle cx="176.9" cy="26.7" r="4.5" fill="url(#s96)"/>
<circle cx="232.9" cy="12.1" r="5.7" fill="url(#s96)"/>
<circle cx="123.5" cy="74.2" r="6.4" fill="url(#s96)"/>
<circle cx="72.5" cy="60.8" r="5.1" fill="url(#s96)"/>
<circle cx="98.6" cy="90.7" r="3.2" fill="url(#s96)"/>
<circle cx="155.3" cy="57.6" r="3.8" fill="url(#s96)"/>
<circle cx="29.0" cy="129.0" r="6.1" fill="url(#s96)"/>
<circle cx="86.0" cy="129.0" r="6.1" fill="url(#s96)"/>
<circle cx="137.9" cy="136.6" r="3.1" fill="url(#s96)"/>
<circle cx="187.8" cy="159.6" r="5.3" fill="url(#s96)"/>
<circle cx="185.7" cy="181.0" r="3.7" fill="url(#s96)"/>
<circle cx="81.5" cy="30.5" r="12.7" fill="url(#s112)"/>
<circle cx="31.8" cy="8.9" r="5.7" fill="url(#s104)"/>
<circle cx="108.2" cy="25.5" r="12.1" fill="url(#s112)"/>
<circle cx="42.0" cy="88.2" r="3.8" fill="url(#s104)"/>
<circle cx="36.9" cy="35.6" r="3.8" fill="url(#s112)"/>
<circle cx="142.5" cy="16.5" r="4.5" fill="url(#s112)"/>
<circle cx="243.7" cy="21.0" r="5.7" fill="url(#s112)"/>
<circle cx="50.9" cy="92.0" r="6.1" fill="url(#s112)"/>
<circle cx="42.6" cy="99.0" r="5.1" fill="url(#s112)"/>
<circle cx="137.5" cy="56.4" r="3.2" fill="url(#s112)"/>
<circle cx="178.2" cy="74.2" r="4.5" fill="url(#s112)"/>
<circle cx="273.6" cy="90.7" r="5.1" fill="url(#s112)"/>
<circle cx="212.5" cy="71.6" r="5.1" fill="url(#s112)"/>
<circle cx="55.0" cy="103.1" r="5.3" fill="url(#s112)"/>
<circle cx="67.2" cy="148.9" r="5.3" fill="url(#s112)"/>
<circle cx="79.9" cy="142.0" r="6.1" fill="url(#s112)"/>
<circle cx="104.4" cy="151.9" r="6.1" fill="url(#s112)"/>
<circle cx="260.4" cy="121.4" r="6.1" fill="url(#s112)"/>
<circle cx="235.5" cy="45.8" r="6.4" fill="url(#s120)"/>
<circle cx="22.9" cy="14.0" r="4.5" fill="url(#s120)"/>
<circle cx="56.0" cy="80.5" r="6.1" fill="url(#s120)"/>
<circle cx="203.6" cy="9.5" r="3.8" fill="url(#s128)"/>
<circle cx="15.3" cy="8.9" r="4.5" fill="url(#s128)"/>
<circle cx="103.7" cy="38.8" r="5.7" fill="url(#s128)"/>
<circle cx="194.7" cy="10.8" r="4.5" fill="url(#s128)"/>
<circle cx="234.2" cy="39.5" r="7.6" fill="url(#s128)"/>
<circle cx="59.8" cy="68.5" r="5.7" fill="url(#s128)"/>
<circle cx="61.7" cy="93.3" r="3.2" fill="url(#s128)"/>
<circle cx="260.9" cy="72.3" r="7.6" fill="url(#s128)"/>
<circle cx="263.5" cy="88.2" r="7.0" fill="url(#s128)"/>
<circle cx="47.3" cy="119.1" r="3.1" fill="url(#s128)"/>
<circle cx="76.1" cy="120.6" r="6.1" fill="url(#s128)"/>
<circle cx="137.2" cy="150.4" r="4.6" fill="url(#s128)"/>
<circle cx="153.0" cy="118.3" r="4.3" fill="url(#s128)"/>
<circle cx="252.0" cy="109.2" r="6.1" fill="url(#s128)"/>
<circle cx="36.3" cy="20.4" r="3.8" fill="url(#s136)"/>
<circle cx="195.4" cy="24.8" r="7.6" fill="url(#s136)"/>
<circle cx="43.3" cy="52.5" r="3.8" fill="url(#s136)"/>
<circle cx="171.2" cy="70.4" r="3.8" fill="url(#s136)"/>
<circle cx="19.8" cy="145.0" r="2.7" fill="url(#s136)"/>
<circle cx="253.9" cy="15.3" r="5.1" fill="url(#s136)"/>
<circle cx="133.0" cy="63.4" r="4.5" fill="url(#s136)"/>
<circle cx="104.4" cy="56.4" r="3.2" fill="url(#s136)"/>
<circle cx="145.1" cy="68.5" r="3.6" fill="url(#s136)"/>
<circle cx="56.5" cy="122.9" r="7.6" fill="url(#s136)"/>
<circle cx="262.7" cy="111.5" r="6.1" fill="url(#s136)"/>
<circle cx="44.5" cy="33.7" r="3.2" fill="url(#s136)"/>
<circle cx="26.1" cy="40.7" r="4.5" fill="url(#s144)"/>
<circle cx="118.4" cy="12.7" r="2.3" fill="url(#s144)"/>
<circle cx="185.8" cy="9.5" r="5.7" fill="url(#s144)"/>
<circle cx="225.3" cy="20.4" r="3.2" fill="url(#s144)"/>
<circle cx="11.5" cy="58.3" r="5.1" fill="url(#s144)"/>
<circle cx="133.6" cy="79.9" r="5.7" fill="url(#s144)"/>
<circle cx="162.9" cy="65.3" r="3.8" fill="url(#s144)"/>
<circle cx="152.1" cy="67.8" r="2.5" fill="url(#s144)"/>
<circle cx="262.2" cy="80.5" r="3.2" fill="url(#s144)"/>
<circle cx="217.0" cy="83.7" r="5.1" fill="url(#s144)"/>
<circle cx="107.4" cy="142.7" r="5.3" fill="url(#s144)"/>
<circle cx="85.3" cy="151.1" r="5.3" fill="url(#s144)"/>
<circle cx="73.1" cy="148.9" r="4.6" fill="url(#s144)"/>
<circle cx="89.8" cy="118.3" r="3.1" fill="url(#s144)"/>
<circle cx="148.4" cy="144.3" r="5.3" fill="url(#s144)"/>
<circle cx="205.6" cy="126.0" r="5.3" fill="url(#s144)"/>
<circle cx="228.3" cy="139.7" r="5.8" fill="url(#s144)"/>
<circle cx="250.5" cy="147.3" r="7.6" fill="url(#s144)"/>
<circle cx="271.1" cy="111.5" r="4.6" fill="url(#s144)"/>
<circle cx="271.1" cy="135.1" r="3.4" fill="url(#s144)"/>
<circle cx="220.4" cy="177.8" r="4.8" fill="url(#s144)"/>
<circle cx="215.6" cy="157.5" r="3.2" fill="url(#s144)"/>
<circle cx="43.9" cy="28.6" r="3.8" fill="url(#s152)"/>
<circle cx="92.9" cy="47.1" r="4.5" fill="url(#s152)"/>
<circle cx="170.5" cy="12.7" r="5.1" fill="url(#s152)"/>
<circle cx="148.3" cy="28.6" r="4.5" fill="url(#s152)"/>
<circle cx="91.0" cy="72.9" r="8.3" fill="url(#s160)"/>
<circle cx="161.6" cy="91.4" r="3.2" fill="url(#s152)"/>
<circle cx="169.0" cy="138.9" r="3.8" fill="url(#s152)"/>
<circle cx="53.5" cy="17.8" r="4.5" fill="url(#s152)"/>
<circle cx="162.3" cy="10.2" r="8.9" fill="url(#s168)"/>
<circle cx="17.8" cy="45.2" r="6.1" fill="url(#s160)"/>
<circle cx="8.9" cy="29.3" r="4.5" fill="url(#s160)"/>
<circle cx="63.6" cy="22.9" r="3.2" fill="url(#s160)"/>
<circle cx="63.6" cy="44.5" r="3.8" fill="url(#s160)"/>
<circle cx="145.7" cy="22.3" r="3.2" fill="url(#s160)"/>
<circle cx="143.2" cy="46.5" r="3.8" fill="url(#s160)"/>
<circle cx="241.8" cy="10.8" r="3.2" fill="url(#s160)"/>
<circle cx="263.5" cy="14.0" r="4.5" fill="url(#s160)"/>
<circle cx="215.7" cy="26.1" r="5.1" fill="url(#s160)"/>
<circle cx="245.0" cy="28.6" r="4.5" fill="url(#s160)"/>
<circle cx="253.9" cy="28.6" r="4.1" fill="url(#s160)"/>
<circle cx="213.8" cy="7.6" r="3.2" fill="url(#s160)"/>
<circle cx="33.7" cy="64.0" r="5.7" fill="url(#s160)"/>
<circle cx="10.8" cy="74.2" r="5.1" fill="url(#s160)"/>
<circle cx="8.9" cy="85.6" r="5.1" fill="url(#s160)"/>
<circle cx="15.9" cy="95.2" r="7.0" fill="url(#s160)"/>
<circle cx="63.6" cy="72.9" r="3.8" fill="url(#s160)"/>
<circle cx="17.2" cy="51.9" r="4.5" fill="url(#s160)"/>
<circle cx="102.5" cy="70.4" r="4.1" fill="url(#s160)"/>
<circle cx="78.9" cy="69.1" r="3.8" fill="url(#s160)"/>
<circle cx="124.1" cy="64.6" r="4.5" fill="url(#s160)"/>
<circle cx="100.5" cy="98.4" r="6.4" fill="url(#s160)"/>
<circle cx="138.1" cy="86.9" r="2.5" fill="url(#s160)"/>
<circle cx="176.9" cy="57.6" r="8.3" fill="url(#s168)"/>
<circle cx="152.1" cy="85.0" r="7.0" fill="url(#s160)"/>
<circle cx="166.1" cy="97.1" r="3.8" fill="url(#s160)"/>
<circle cx="241.2" cy="57.6" r="5.1" fill="url(#s160)"/>
<circle cx="226.5" cy="92.0" r="7.0" fill="url(#s160)"/>
<circle cx="254.5" cy="94.5" r="5.1" fill="url(#s160)"/>
<circle cx="20.6" cy="112.2" r="4.6" fill="url(#s160)"/>
<circle cx="40.5" cy="131.3" r="6.4" fill="url(#s160)"/>
<circle cx="25.2" cy="133.6" r="3.8" fill="url(#s160)"/>
<circle cx="31.3" cy="138.2" r="3.8" fill="url(#s160)"/>
<circle cx="34.4" cy="153.4" r="5.3" fill="url(#s160)"/>
<circle cx="10.7" cy="140.5" r="2.7" fill="url(#s160)"/>
<circle cx="103.6" cy="134.4" r="4.6" fill="url(#s160)"/>
<circle cx="158.3" cy="137.4" r="4.9" fill="url(#s160)"/>
<circle cx="207.9" cy="138.2" r="3.1" fill="url(#s160)"/>
<circle cx="217.6" cy="114.5" r="6.1" fill="url(#s160)"/>
<circle cx="258.1" cy="136.6" r="7.9" fill="url(#s160)"/>
<circle cx="271.1" cy="145.0" r="7.6" fill="url(#s160)"/>
<circle cx="234.4" cy="145.8" r="3.8" fill="url(#s160)"/>
<circle cx="274.9" cy="126.7" r="5.3" fill="url(#s160)"/>
<circle cx="248.9" cy="122.9" r="4.6" fill="url(#s160)"/>
<circle cx="45.8" cy="12.7" r="5.1" fill="url(#s168)"/>
<circle cx="167.4" cy="34.4" r="10.2" fill="url(#s176)"/>
<circle cx="198.5" cy="41.4" r="3.2" fill="url(#s168)"/>
<circle cx="272.4" cy="17.8" r="4.5" fill="url(#s168)"/>
<circle cx="22.9" cy="78.6" r="7.0" fill="url(#s168)"/>
<circle cx="112.6" cy="81.2" r="6.1" fill="url(#s168)"/>
<circle cx="119.6" cy="96.5" r="5.7" fill="url(#s168)"/>
<circle cx="163.5" cy="76.7" r="7.0" fill="url(#s168)"/>
<circle cx="194.7" cy="84.4" r="11.5" fill="url(#s176)"/>
<circle cx="155.3" cy="93.9" r="3.8" fill="url(#s168)"/>
<circle cx="208.7" cy="93.3" r="3.8" fill="url(#s168)"/>
<circle cx="229.1" cy="73.5" r="8.9" fill="url(#s176)"/>
<circle cx="241.8" cy="92.0" r="9.5" fill="url(#s176)"/>
<circle cx="213.8" cy="93.3" r="5.7" fill="url(#s168)"/>
<circle cx="46.6" cy="109.2" r="5.3" fill="url(#s168)"/>
<circle cx="52.7" cy="142.0" r="8.9" fill="url(#s176)"/>
<circle cx="35.9" cy="123.7" r="3.4" fill="url(#s168)"/>
<circle cx="3.8" cy="133.6" r="4.6" fill="url(#s168)"/>
<circle cx="124.2" cy="140.5" r="9.2" fill="url(#s176)"/>
<circle cx="132.6" cy="129.0" r="4.9" fill="url(#s168)"/>
<circle cx="160.6" cy="126.0" r="6.9" fill="url(#s168)"/>
<circle cx="144.6" cy="126.0" r="5.3" fill="url(#s168)"/>
<circle cx="146.1" cy="103.1" r="6.1" fill="url(#s168)"/>
<circle cx="201.1" cy="158.0" r="5.3" fill="url(#s168)"/>
<circle cx="239.0" cy="133.6" r="5.3" fill="url(#s168)"/>
<circle cx="204.9" cy="173.0" r="5.9" fill="url(#s168)"/>
<circle cx="217.7" cy="151.6" r="4.3" fill="url(#s168)"/>
<circle cx="204.9" cy="16.5" r="3.2" fill="url(#s168)"/>
<circle cx="203.6" cy="14.0" r="2.3" fill="url(#s168)"/>
<circle cx="12.7" cy="36.9" r="4.8" fill="url(#s176)"/>
<circle cx="98.6" cy="12.1" r="6.4" fill="url(#s176)"/>
<circle cx="84.0" cy="38.8" r="3.8" fill="url(#s176)"/>
<circle cx="78.9" cy="45.8" r="5.1" fill="url(#s176)"/>
<circle cx="179.5" cy="37.5" r="5.7" fill="url(#s176)"/>
<circle cx="188.4" cy="42.0" r="5.7" fill="url(#s176)"/>
<circle cx="206.2" cy="35.0" r="8.9" fill="url(#s184)"/>
<circle cx="276.2" cy="10.2" r="3.2" fill="url(#s176)"/>
<circle cx="264.7" cy="36.3" r="6.4" fill="url(#s176)"/>
<circle cx="271.7" cy="28.0" r="3.6" fill="url(#s176)"/>
<circle cx="272.4" cy="49.0" r="3.8" fill="url(#s176)"/>
<circle cx="26.1" cy="56.4" r="6.4" fill="url(#s176)"/>
<circle cx="5.7" cy="95.8" r="3.2" fill="url(#s176)"/>
<circle cx="62.4" cy="54.5" r="5.7" fill="url(#s176)"/>
<circle cx="94.2" cy="57.6" r="5.7" fill="url(#s176)"/>
<circle cx="85.3" cy="55.1" r="5.1" fill="url(#s176)"/>
<circle cx="110.7" cy="92.0" r="5.7" fill="url(#s176)"/>
<circle cx="131.1" cy="99.0" r="4.5" fill="url(#s176)"/>
<circle cx="145.1" cy="95.2" r="7.0" fill="url(#s176)"/>
<circle cx="176.9" cy="95.8" r="5.1" fill="url(#s176)"/>
<circle cx="143.8" cy="55.1" r="5.1" fill="url(#s176)"/>
<circle cx="249.5" cy="55.7" r="3.2" fill="url(#s176)"/>
<circle cx="255.2" cy="62.1" r="4.5" fill="url(#s176)"/>
<circle cx="12.2" cy="113.7" r="6.1" fill="url(#s176)"/>
<circle cx="15.3" cy="101.5" r="6.1" fill="url(#s176)"/>
<circle cx="36.6" cy="110.7" r="3.4" fill="url(#s176)"/>
<circle cx="101.3" cy="103.1" r="9.2" fill="url(#s184)"/>
<circle cx="117.3" cy="103.1" r="6.1" fill="url(#s176)"/>
<circle cx="98.2" cy="116.0" r="6.4" fill="url(#s176)"/>
<circle cx="93.7" cy="142.0" r="8.9" fill="url(#s184)"/>
<circle cx="74.6" cy="128.2" r="4.6" fill="url(#s176)"/>
<circle cx="118.9" cy="152.7" r="7.6" fill="url(#s176)"/>
<circle cx="185.8" cy="142.7" r="12.2" fill="url(#s184)"/>
<circle cx="141.5" cy="113.7" r="3.1" fill="url(#s176)"/>
<circle cx="232.1" cy="108.4" r="7.3" fill="url(#s176)"/>
<circle cx="242.1" cy="123.7" r="5.3" fill="url(#s176)"/>
<circle cx="236.7" cy="118.3" r="2.7" fill="url(#s176)"/>
<circle cx="215.6" cy="166.0" r="5.3" fill="url(#s176)"/>
<circle cx="207.1" cy="182.1" r="5.3" fill="url(#s176)"/>
<circle cx="191.0" cy="184.2" r="3.7" fill="url(#s176)"/>
<circle cx="203.3" cy="152.1" r="3.7" fill="url(#s176)"/>
<circle cx="63.6" cy="34.4" r="1.9" fill="url(#s176)"/>
<circle cx="88.5" cy="19.7" r="3.2" fill="url(#s176)"/>
<circle cx="120.9" cy="41.4" r="5.1" fill="url(#s176)"/>
<circle cx="71.9" cy="42.0" r="3.2" fill="url(#s176)"/>
<circle cx="61.1" cy="10.8" r="4.5" fill="url(#s184)"/>
<circle cx="87.2" cy="12.7" r="4.1" fill="url(#s184)"/>
<circle cx="127.9" cy="14.6" r="5.7" fill="url(#s184)"/>
<circle cx="123.5" cy="34.4" r="3.8" fill="url(#s184)"/>
<circle cx="213.2" cy="34.4" r="7.0" fill="url(#s184)"/>
<circle cx="254.5" cy="38.8" r="6.1" fill="url(#s184)"/>
<circle cx="67.5" cy="74.2" r="3.2" fill="url(#s184)"/>
<circle cx="113.9" cy="60.8" r="5.3" fill="url(#s184)"/>
<circle cx="120.3" cy="53.8" r="5.7" fill="url(#s184)"/>
<circle cx="73.8" cy="72.9" r="4.5" fill="url(#s184)"/>
<circle cx="75.7" cy="81.8" r="5.1" fill="url(#s184)"/>
<circle cx="73.2" cy="90.7" r="5.7" fill="url(#s184)"/>
<circle cx="138.7" cy="95.8" r="3.8" fill="url(#s184)"/>
<circle cx="173.1" cy="86.9" r="3.8" fill="url(#s184)"/>
<circle cx="10.7" cy="126.0" r="6.1" fill="url(#s184)"/>
<circle cx="7.6" cy="148.9" r="4.6" fill="url(#s184)"/>
<circle cx="62.6" cy="141.2" r="2.3" fill="url(#s184)"/>
<circle cx="79.9" cy="106.9" r="6.9" fill="url(#s184)"/>
<circle cx="131.1" cy="104.6" r="7.6" fill="url(#s184)"/>
<circle cx="98.2" cy="125.2" r="4.6" fill="url(#s184)"/>
<circle cx="83.7" cy="116.0" r="3.1" fill="url(#s184)"/>
<circle cx="181.2" cy="114.5" r="9.2" fill="url(#s192)"/>
<circle cx="196.5" cy="109.9" r="9.2" fill="url(#s192)"/>
<circle cx="168.2" cy="109.9" r="5.8" fill="url(#s184)"/>
<circle cx="204.1" cy="148.9" r="4.6" fill="url(#s184)"/>
<circle cx="213.8" cy="123.7" r="4.3" fill="url(#s184)"/>
<circle cx="202.2" cy="160.7" r="6.4" fill="url(#s184)"/>
<circle cx="206.5" cy="168.7" r="3.2" fill="url(#s184)"/>
<circle cx="59.8" cy="36.9" r="1.9" fill="url(#s192)"/>
<circle cx="49.6" cy="38.2" r="1.5" fill="url(#s192)"/>
<circle cx="57.3" cy="42.0" r="1.5" fill="url(#s192)"/>
<circle cx="130.5" cy="25.5" r="2.5" fill="url(#s192)"/>
<circle cx="172.5" cy="21.0" r="2.8" fill="url(#s192)"/>
<circle cx="7.6" cy="71.6" r="2.5" fill="url(#s192)"/>
<circle cx="56.0" cy="27.4" r="5.1" fill="url(#s192)"/>
<circle cx="216.4" cy="44.5" r="3.8" fill="url(#s192)"/>
<circle cx="68.7" cy="88.2" r="3.8" fill="url(#s192)"/>
<circle cx="185.8" cy="57.6" r="3.2" fill="url(#s192)"/>
<circle cx="194.7" cy="66.5" r="4.5" fill="url(#s192)"/>
<circle cx="203.6" cy="71.6" r="5.7" fill="url(#s192)"/>
<circle cx="178.2" cy="83.1" r="3.2" fill="url(#s192)"/>
<circle cx="198.5" cy="97.1" r="3.8" fill="url(#s192)"/>
<circle cx="206.2" cy="52.5" r="3.8" fill="url(#s192)"/>
<circle cx="224.6" cy="59.5" r="5.7" fill="url(#s192)"/>
<circle cx="215.1" cy="53.8" r="5.1" fill="url(#s192)"/>
<circle cx="260.3" cy="64.0" r="3.2" fill="url(#s192)"/>
<circle cx="271.1" cy="67.8" r="3.8" fill="url(#s192)"/>
<circle cx="219.5" cy="99.0" r="5.1" fill="url(#s192)"/>
<circle cx="65.6" cy="109.9" r="6.1" fill="url(#s192)"/>
<circle cx="65.6" cy="129.8" r="4.6" fill="url(#s192)"/>
<circle cx="3.1" cy="113.7" r="3.1" fill="url(#s192)"/>
<circle cx="124.2" cy="129.0" r="2.7" fill="url(#s192)"/>
<circle cx="137.9" cy="114.5" r="4.6" fill="url(#s192)"/>
<circle cx="114.3" cy="135.1" r="2.3" fill="url(#s192)"/>
<circle cx="199.5" cy="143.5" r="3.4" fill="url(#s192)"/>
<circle cx="207.2" cy="113.7" r="3.8" fill="url(#s192)"/>
<circle cx="219.9" cy="103.8" r="6.9" fill="url(#s192)"/>
<circle cx="231.4" cy="116.0" r="3.8" fill="url(#s192)"/>
<circle cx="241.3" cy="148.9" r="3.8" fill="url(#s192)"/>
<circle cx="247.4" cy="102.3" r="3.8" fill="url(#s192)"/>
<circle cx="196.4" cy="181.0" r="3.2" fill="url(#s192)"/>
<circle cx="50.9" cy="34.4" r="1.9" fill="url(#s200)"/>
<circle cx="54.7" cy="38.2" r="1.9" fill="url(#s200)"/>
<circle cx="100.5" cy="23.5" r="1.9" fill="url(#s200)"/>
<circle cx="110.7" cy="27.4" r="1.9" fill="url(#s200)"/>
<circle cx="167.4" cy="19.7" r="2.5" fill="url(#s200)"/>
<circle cx="196.6" cy="72.9" r="3.2" fill="url(#s200)"/>
<circle cx="185.8" cy="92.0" r="3.2" fill="url(#s200)"/>
<circle cx="272.4" cy="57.6" r="7.6" fill="url(#s200)"/>
<circle cx="165.2" cy="123.7" r="3.4" fill="url(#s200)"/>
<circle cx="231.4" cy="128.2" r="3.4" fill="url(#s200)"/>
<ellipse cx="38.8" cy="70.7" rx="11.0" ry="3.8" transform="rotate(-50 38.8 70.7)" fill="url(#s184)"/>
<ellipse cx="195.0" cy="128.0" rx="11.5" ry="3.3" transform="rotate(59 195.0 128.0)" fill="url(#s192)"/>
<ellipse cx="215.2" cy="141.0" rx="6.0" ry="12.5" transform="rotate(0 215.2 141.0)" fill="url(#s192)"/>
<ellipse cx="165.0" cy="11.0" rx="10.5" ry="7.5" transform="rotate(10 165.0 11.0)" fill="url(#s168)"/>
<ellipse cx="206.5" cy="35.5" rx="9.5" ry="8.0" transform="rotate(-20 206.5 35.5)" fill="url(#s184)"/>
<circle cx="193.8" cy="87.4" r="1.0" fill="url(#s184)"/>
<circle cx="30.6" cy="167.0" r="1.1" fill="url(#s160)"/>
<circle cx="202.8" cy="143.7" r="1.6" fill="url(#s168)"/>
<circle cx="147.5" cy="183.5" r="1.2" fill="url(#s192)"/>
<circle cx="53.3" cy="37.9" r="1.7" fill="url(#s168)"/>
<circle cx="246.3" cy="16.1" r="1.5" fill="url(#s176)"/>
<circle cx="204.2" cy="139.0" r="1.5" fill="url(#s160)"/>
<circle cx="22.1" cy="96.7" r="1.1" fill="url(#s168)"/>
<circle cx="34.5" cy="8.6" r="1.8" fill="url(#s176)"/>
<circle cx="192.3" cy="43.8" r="1.4" fill="url(#s160)"/>
<circle cx="66.2" cy="31.5" r="1.3" fill="url(#s176)"/>
<circle cx="143.3" cy="183.1" r="1.0" fill="url(#s192)"/>
<circle cx="231.4" cy="40.3" r="1.9" fill="url(#s176)"/>
<circle cx="154.7" cy="61.3" r="0.9" fill="url(#s200)"/>
<circle cx="54.2" cy="153.3" r="1.9" fill="url(#s160)"/>
<circle cx="232.2" cy="10.9" r="1.5" fill="url(#s184)"/>
<circle cx="220.6" cy="69.4" r="1.7" fill="url(#s200)"/>
<circle cx="277.0" cy="149.3" r="1.4" fill="url(#s192)"/>
<circle cx="104.9" cy="38.8" r="1.7" fill="url(#s192)"/>
<circle cx="38.8" cy="4.1" r="1.8" fill="url(#s192)"/>
<circle cx="106.3" cy="153.6" r="1.6" fill="url(#s176)"/>
<circle cx="198.4" cy="115.8" r="1.0" fill="url(#s168)"/>
<circle cx="225.4" cy="34.4" r="1.5" fill="url(#s200)"/>
<circle cx="41.1" cy="89.1" r="1.8" fill="url(#s200)"/>
<circle cx="9.6" cy="33.4" r="1.2" fill="url(#s160)"/>
<circle cx="7.0" cy="60.6" r="1.1" fill="url(#s168)"/>
<circle cx="177.3" cy="41.9" r="1.9" fill="url(#s176)"/>
<circle cx="34.8" cy="181.8" r="1.6" fill="url(#s168)"/>
<circle cx="218.1" cy="142.4" r="1.7" fill="url(#s192)"/>
<circle cx="32.8" cy="172.4" r="1.5" fill="url(#s168)"/>
<circle cx="36.7" cy="163.1" r="1.6" fill="url(#s176)"/>
<circle cx="168.5" cy="12.0" r="1.4" fill="url(#s168)"/>
<circle cx="193.0" cy="175.0" r="1.4" fill="url(#s160)"/>
<circle cx="79.9" cy="177.6" r="1.0" fill="url(#s192)"/>
<circle cx="253.7" cy="70.2" r="1.9" fill="url(#s168)"/>
<circle cx="31.2" cy="60.0" r="1.7" fill="url(#s208)"/>
<circle cx="96.0" cy="162.5" r="1.3" fill="url(#s160)"/>
<circle cx="7.2" cy="183.0" r="1.2" fill="url(#s160)"/>
<circle cx="192.9" cy="94.9" r="1.3" fill="url(#s208)"/>
<circle cx="60.3" cy="125.8" r="1.0" fill="url(#s160)"/>
<circle cx="23.4" cy="39.1" r="1.9" fill="url(#s200)"/>
<circle cx="125.5" cy="11.8" r="1.2" fill="url(#s192)"/>
<circle cx="246.8" cy="153.3" r="1.1" fill="url(#s176)"/>
<circle cx="79.6" cy="82.2" r="1.0" fill="url(#s184)"/>
<circle cx="51.8" cy="33.1" r="1.3" fill="url(#s176)"/>
<circle cx="91.9" cy="173.1" r="1.4" fill="url(#s200)"/>
<circle cx="133.8" cy="66.6" r="1.0" fill="url(#s208)"/>
<circle cx="198.6" cy="115.2" r="1.1" fill="url(#s176)"/>
<circle cx="207.8" cy="131.2" r="1.0" fill="url(#s168)"/>
<circle cx="30.7" cy="55.2" r="1.6" fill="url(#s192)"/>
<circle cx="184.6" cy="106.2" r="1.0" fill="url(#s200)"/>
<circle cx="112.1" cy="173.4" r="1.0" fill="url(#s200)"/>
<circle cx="62.4" cy="110.9" r="1.8" fill="url(#s184)"/>
<circle cx="53.1" cy="93.1" r="1.0" fill="url(#s168)"/>
<circle cx="268.4" cy="10.6" r="1.4" fill="url(#s168)"/>
<circle cx="235.8" cy="42.5" r="1.6" fill="url(#s176)"/>
<circle cx="107.5" cy="157.7" r="1.3" fill="url(#s192)"/>
<circle cx="247.3" cy="113.3" r="1.7" fill="url(#s208)"/>
<circle cx="81.6" cy="24.3" r="0.9" fill="url(#s208)"/>
<circle cx="109.8" cy="95.3" r="1.0" fill="url(#s192)"/>
<circle cx="70.0" cy="48.3" r="1.7" fill="url(#s168)"/>
<circle cx="177.8" cy="14.2" r="1.9" fill="url(#s168)"/>
<circle cx="86.2" cy="161.6" r="1.5" fill="url(#s184)"/>
<circle cx="18.7" cy="178.3" r="1.2" fill="url(#s192)"/>
<circle cx="224.5" cy="137.6" r="1.3" fill="url(#s200)"/>
<circle cx="52.5" cy="184.7" r="1.1" fill="url(#s168)"/>
<circle cx="171.0" cy="92.3" r="1.8" fill="url(#s168)"/>
<circle cx="13.7" cy="177.4" r="1.4" fill="url(#s176)"/>
<circle cx="34.8" cy="114.8" r="0.9" fill="url(#s192)"/>
<circle cx="245.3" cy="41.0" r="1.2" fill="url(#s192)"/>
<circle cx="249.9" cy="75.2" r="1.7" fill="url(#s160)"/>
<circle cx="221.8" cy="88.5" r="1.1" fill="url(#s184)"/>
<circle cx="201.7" cy="6.0" r="1.7" fill="url(#s168)"/>
<circle cx="5.1" cy="52.8" r="1.4" fill="url(#s192)"/>
<circle cx="157.1" cy="45.8" r="1.8" fill="url(#s200)"/>
<circle cx="274.1" cy="103.8" r="1.0" fill="url(#s184)"/>
<circle cx="48.3" cy="42.7" r="1.0" fill="url(#s200)"/>
<circle cx="221.8" cy="111.7" r="1.4" fill="url(#s184)"/>
<circle cx="249.3" cy="151.3" r="1.3" fill="url(#s192)"/>
<circle cx="130.5" cy="163.2" r="1.9" fill="url(#s200)"/>
<circle cx="243.3" cy="22.0" r="1.3" fill="url(#s208)"/>
<circle cx="146.2" cy="169.4" r="1.4" fill="url(#s208)"/>
<circle cx="201.9" cy="174.7" r="1.4" fill="url(#s176)"/>
<circle cx="200.2" cy="143.3" r="1.4" fill="url(#s208)"/>
<circle cx="113.1" cy="40.0" r="1.1" fill="url(#s200)"/>
<circle cx="10.9" cy="123.7" r="1.6" fill="url(#s208)"/>
<circle cx="128.5" cy="112.5" r="1.2" fill="url(#s160)"/>
<circle cx="125.5" cy="155.8" r="1.3" fill="url(#s192)"/>
<circle cx="157.9" cy="133.0" r="1.2" fill="url(#s176)"/>
<circle cx="13.6" cy="177.8" r="1.3" fill="url(#s168)"/>
<circle cx="220.9" cy="150.0" r="1.4" fill="url(#s160)"/>
<circle cx="126.2" cy="114.2" r="1.4" fill="url(#s168)"/>
<circle cx="153.8" cy="31.2" r="1.7" fill="url(#s208)"/>
<circle cx="25.0" cy="37.6" r="1.6" fill="url(#s176)"/>
<circle cx="138.8" cy="161.3" r="1.2" fill="url(#s200)"/>
<circle cx="27.0" cy="102.2" r="1.5" fill="url(#s176)"/>
<circle cx="241.7" cy="42.4" r="1.1" fill="url(#s176)"/>
<circle cx="126.3" cy="185.2" r="1.2" fill="url(#s168)"/>
<circle cx="98.2" cy="155.3" r="1.1" fill="url(#s168)"/>
<circle cx="231.7" cy="151.3" r="1.7" fill="url(#s184)"/>
<circle cx="275.7" cy="24.1" r="1.8" fill="url(#s200)"/>
<circle cx="239.0" cy="171.9" r="1.8" fill="url(#s160)"/>
<circle cx="225.2" cy="127.1" r="1.6" fill="url(#s160)"/>
<circle cx="174.5" cy="156.2" r="1.3" fill="url(#s168)"/>
<circle cx="33.9" cy="155.7" r="1.1" fill="url(#s208)"/>
<circle cx="244.4" cy="81.3" r="1.0" fill="url(#s168)"/>
<circle cx="142.3" cy="71.1" r="1.4" fill="url(#s176)"/>
<circle cx="111.4" cy="101.3" r="1.0" fill="url(#s176)"/>
<circle cx="179.1" cy="101.4" r="1.2" fill="url(#s168)"/>
<circle cx="38.8" cy="95.4" r="1.3" fill="url(#s192)"/>
</g>
</g>
<g id="semlabels">
<text x="15.6" y="28.4" font-size="25.2" fill="#f8f8f8" stroke="#f8f8f8" stroke-width="0.25">(a)</text>
<text font-size="21.5" fill="#111" stroke="#111" stroke-width="0.3"><tspan x="9" y="180" font-style="italic">ρ</tspan> <tspan x="31" y="181.8" textLength="14.5" lengthAdjust="spacingAndGlyphs">=</tspan> <tspan x="55.5" y="180" textLength="41" lengthAdjust="spacingAndGlyphs">7.98</tspan> <tspan x="105.5" y="180" font-style="italic" textLength="11.8" lengthAdjust="spacingAndGlyphs">g</tspan><tspan x="119.6" y="183.6" font-style="italic" font-size="30" stroke-width="0.1">/</tspan><tspan x="132.7" y="180" font-style="italic" textLength="29" lengthAdjust="spacingAndGlyphs">cm</tspan><tspan x="163.4" y="171.6" font-size="16">3</tspan></text>
<text x="233.3" y="172.7" font-size="12.8" fill="#111">50 µm</text>
<rect x="233.9" y="178.8" width="32.8" height="3.7" fill="#000"/>
</g>
<g id="chartb">
<g fill="#07b6e8" stroke="#a3a9a8" stroke-width="0.85">
<rect x="330.12" y="156.7" width="4.45" height="0.5"/>
<rect x="334.57" y="156.5" width="4.45" height="0.7"/>
<rect x="339.02" y="156.3" width="4.45" height="0.9"/>
<rect x="343.47" y="156" width="4.45" height="1.2"/>
<rect x="347.92" y="155.5" width="4.45" height="1.7"/>
<rect x="352.38" y="155" width="4.45" height="2.2"/>
<rect x="356.82" y="154.2" width="4.45" height="3"/>
<rect x="361.27" y="153.3" width="4.45" height="3.9"/>
<rect x="365.72" y="152.4" width="4.45" height="4.8"/>
<rect x="370.17" y="151.1" width="4.45" height="6.1"/>
<rect x="374.62" y="149.6" width="4.45" height="7.6"/>
<rect x="379.07" y="147.7" width="4.45" height="9.5"/>
<rect x="383.52" y="145.3" width="4.45" height="11.9"/>
<rect x="387.97" y="142.4" width="4.45" height="14.8"/>
<rect x="392.42" y="138.5" width="4.45" height="18.7"/>
<rect x="396.88" y="134.1" width="4.45" height="23.1"/>
<rect x="401.32" y="129" width="4.45" height="28.2"/>
<rect x="405.77" y="122.5" width="4.45" height="34.7"/>
<rect x="410.22" y="114.6" width="4.45" height="42.6"/>
<rect x="414.67" y="105.5" width="4.45" height="51.7"/>
<rect x="419.12" y="95.3" width="4.45" height="61.9"/>
<rect x="423.57" y="83.3" width="4.45" height="73.9"/>
<rect x="428.02" y="70.3" width="4.45" height="86.9"/>
<rect x="432.47" y="56.5" width="4.45" height="100.7"/>
<rect x="436.92" y="43.2" width="4.45" height="114"/>
<rect x="441.38" y="30.9" width="4.45" height="126.3"/>
<rect x="445.82" y="21.6" width="4.45" height="135.6"/>
<rect x="450.27" y="17.2" width="4.45" height="140"/>
<rect x="454.72" y="19.3" width="4.45" height="137.9"/>
<rect x="459.17" y="30" width="4.45" height="127.2"/>
<rect x="463.62" y="48.3" width="4.45" height="108.9"/>
<rect x="468.07" y="72.5" width="4.45" height="84.7"/>
<rect x="472.52" y="98.2" width="4.45" height="59"/>
<rect x="476.97" y="122.1" width="4.45" height="35.1"/>
<rect x="481.42" y="139.9" width="4.45" height="17.3"/>
<rect x="485.88" y="150.5" width="4.45" height="6.7"/>
<rect x="490.32" y="155.2" width="4.45" height="2"/>
</g>
<polyline fill="none" stroke="#e0443e" stroke-width="0.75" stroke-linejoin="round" points="311.8,157.2 332.35,157.16 336.8,157.1 341.25,157.03 345.7,156.93 350.15,156.79 354.6,156.61 359.05,156.36 363.5,156.04 367.95,155.65 372.4,155.14 376.85,154.52 381.3,153.74 385.75,152.76 390.2,151.54 394.65,150 399.1,148.1 403.55,145.78 408,142.93 412.45,139.42 416.9,135.17 421.35,130.08 425.8,124 430.25,116.85 434.7,108.56 439.15,99.18 443.6,88.79 448.05,77.64 452.5,66.12 456.95,54.77 461.4,44.31 465.85,35.35 470.3,28.38 474.75,23.53 479.2,20.64 483.65,19.22 484.5,18.6 488.5,18.5 492.7,19.5 497,18.4 502,18.3 508,18.3"/>
<g stroke="#222" stroke-width="1" fill="none">
<path d="M311.8 4.5 V157.2 H508"/>
<path d="M311.8 4.5 H508"/>
<path d="M311.8 157.2 h2.8M311.8 140.2 h1.5M311.8 123.2 h2.8M311.8 106.2 h1.5M311.8 89.2 h2.8M311.8 72.2 h1.5M311.8 55.2 h2.8M311.8 38.2 h1.5M311.8 21.2 h2.8M311.3 157.2 v-2.8M333.03 157.2 v-1.5M345.75 157.2 v-1.5M354.77 157.2 v-1.5M361.77 157.2 v-1.5M367.48 157.2 v-1.5M372.32 157.2 v-1.5M376.5 157.2 v-1.5M380.2 157.2 v-1.5M383.5 157.2 v-2.8M405.23 157.2 v-1.5M417.95 157.2 v-1.5M426.97 157.2 v-1.5M433.97 157.2 v-1.5M439.68 157.2 v-1.5M444.52 157.2 v-1.5M448.7 157.2 v-1.5M452.4 157.2 v-1.5M455.7 157.2 v-2.8M477.43 157.2 v-1.5M490.15 157.2 v-1.5M499.17 157.2 v-1.5M506.17 157.2 v-1.5"/>
</g>
<g stroke="#f2262a" stroke-width="1" fill="none">
<path d="M508 4.5 V157.2M508 157.2 h-2.8M508 143.33 h-1.5M508 129.46 h-2.8M508 115.59 h-1.5M508 101.72 h-2.8M508 87.85 h-1.5M508 73.98 h-2.8M508 60.11 h-1.5M508 46.24 h-2.8M508 32.37 h-1.5M508 18.5 h-2.8"/>
</g>
<g font-size="12" fill="#111" text-anchor="end">
<text x="308.4" y="161.1">0</text>
<text x="308.4" y="127.1">2</text>
<text x="308.4" y="93.1">4</text>
<text x="308.4" y="59.1">6</text>
<text x="308.4" y="25.1">8</text>
</g>
<g font-size="12" fill="#111" text-anchor="middle">
<text x="311.6" y="169.6">1</text>
<text x="383.8" y="169.6">10</text>
<text x="456" y="169.6">100</text>
</g>
<g font-size="12" fill="#f2262a" text-anchor="start">
<text x="511.8" y="161.2">0</text>
<text x="511.8" y="133.46">20</text>
<text x="511.8" y="105.72">40</text>
<text x="511.8" y="77.98">60</text>
<text x="511.8" y="50.24">80</text>
<text x="511.8" y="22.5">100</text>
</g>
<text x="353.3" y="184.5" font-size="12.4" fill="#111" textLength="113.2" lengthAdjust="spacingAndGlyphs">Particle diameter (µm)</text>
<text transform="translate(295.7 131) rotate(-90)" font-size="12.6" fill="#111" textLength="100.7" lengthAdjust="spacingAndGlyphs">Volume fraction (%)</text>
<text transform="translate(543 134) rotate(-90)" font-size="12.6" fill="#f2262a" textLength="106.4" lengthAdjust="spacingAndGlyphs">Cumulative score (%)</text>
<text x="320.4" y="28.2" font-size="24.5" fill="#111">(b)</text>
<text x="319.4" y="96" font-size="12.4" fill="#111" textLength="99.2" lengthAdjust="spacingAndGlyphs">&gt; 80%: 22 -160 µm</text>
<text x="412.5" y="16.8" font-size="11" fill="#3a3af0">91 µm</text>
<path d="M442 14.2 L447.5 16.6" stroke="#3a3af0" stroke-width="0.8" fill="none"/>
<path d="M451 18.5 L445.2 18.3 L447.6 14.2 Z" fill="#2b2bf0"/>
</g>
<g id="chartc">
<rect x="346.9" y="207.3" width="20.8" height="35.8" fill="#f1f1d2" stroke="#c2c2fa" stroke-width="1.1" stroke-dasharray="2.5 1.5"/>
<path d="M181 349.2C181.27 348.9 181.88 347.93 182.6 347.4C183.32 346.87 184.23 346.4 185.3 346C186.37 345.6 187.73 345.25 189 345C190.27 344.75 191.23 344.6 192.9 344.5C194.57 344.4 196.88 344.37 199 344.4C201.12 344.43 202.93 344.52 205.6 344.7C208.27 344.88 212.27 345.25 215 345.5C217.73 345.75 219.75 346.03 222 346.2C224.25 346.37 226 346.52 228.5 346.5C231 346.48 234.03 346.35 237 346.1C239.97 345.85 243.47 345.38 246.3 345C249.13 344.62 251.45 344.27 254 343.8C256.55 343.33 259.43 342.78 261.6 342.2C263.77 341.62 265.3 340.95 267 340.3C268.7 339.65 270.13 339.13 271.8 338.3C273.47 337.47 275.3 336.35 277 335.3C278.7 334.25 280.33 333.13 282 332C283.67 330.87 285.32 329.77 287 328.5C288.68 327.23 290.43 325.88 292.1 324.4C293.77 322.92 295.3 321.43 297 319.6C298.7 317.77 300.55 315.53 302.3 313.4C304.05 311.27 305.8 309.03 307.5 306.8C309.2 304.57 310.78 302.4 312.5 300C314.22 297.6 316.02 295.3 317.8 292.4C319.58 289.5 321.42 286.02 323.2 282.6C324.98 279.18 326.73 275.47 328.5 271.9C330.27 268.33 332.02 264.62 333.8 261.2C335.58 257.78 337.42 254.4 339.2 251.4C340.98 248.4 342.87 245.6 344.5 243.2C346.13 240.8 347.75 238.77 349 237C350.25 235.23 351.15 233.9 352 232.6C352.85 231.3 353.6 230.27 354.1 229.2C354.6 228.13 354.83 227.67 355 226.2C355.17 224.73 355.02 221.83 355.1 220.4C355.18 218.97 355.33 217.38 355.5 217.6C355.67 217.82 355.8 221.12 356.1 221.7C356.4 222.28 356.58 222.15 357.3 221.1C358.02 220.05 359.23 217.52 360.4 215.4C361.57 213.28 363.13 210.42 364.3 208.4C365.47 206.38 366.55 204.47 367.4 203.3C368.25 202.13 368.83 201.82 369.4 201.4C369.97 200.98 370.57 200.9 370.8 200.8" fill="none" stroke="#1a1a1a" stroke-width="1" stroke-linejoin="round"/>
<g stroke="#222" stroke-width="1" fill="none">
<rect x="175.5" y="198.5" width="195.5" height="157.5"/>
<path d="M175.5 349 h3M175.5 317.5 h3M175.5 286 h3M175.5 254.5 h3M175.5 223 h3M175.5 333.25 h1.8M175.5 301.75 h1.8M175.5 270.25 h1.8M175.5 238.75 h1.8M175.5 207.25 h1.8M191.63 356 v-1.8M207.66 356 v-3M223.69 356 v-1.8M239.72 356 v-3M255.75 356 v-1.8M271.78 356 v-3M287.81 356 v-1.8M303.84 356 v-3M319.87 356 v-1.8M335.9 356 v-3M351.93 356 v-1.8M367.96 356 v-3"/>
</g>
<g font-size="11.8" fill="#111" text-anchor="end">
<text x="171.8" y="352.8">0.0</text>
<text x="171.8" y="321.3">0.5</text>
<text x="171.8" y="289.8">1.0</text>
<text x="171.8" y="258.3">1.5</text>
<text x="171.8" y="226.8">2.0</text>
</g>
<g font-size="11.8" fill="#111" text-anchor="middle">
<text x="175.6" y="368.3">0</text>
<text x="207.66" y="368.3">200</text>
<text x="239.72" y="368.3">400</text>
<text x="271.78" y="368.3">600</text>
<text x="303.84" y="368.3">800</text>
<text x="335.9" y="368.3">1000</text>
<text x="369.66" y="368.3">1200</text>
</g>
<text y="385.5" font-size="12.4" fill="#111" class="cjk"><tspan x="222.6" textLength="62.4" lengthAdjust="spacingAndGlyphs">Temperature</tspan><tspan x="284.6">（</tspan><tspan x="298.6">℃</tspan><tspan x="313">）</tspan></text>
<text transform="translate(152 311.6) rotate(-90)" font-size="12.5" fill="#111" textLength="68.4" lengthAdjust="spacingAndGlyphs">DTA (uv/mg)</text>
<text x="180.7" y="218" font-size="24.5" fill="#111">(c)</text>
<text x="185.5" y="251" font-size="12.3" fill="#333" class="cjk" textLength="17.8" lengthAdjust="spacingAndGlyphs">EXO</text>
<path d="M193.6 279 V254.6 M191.5 258.2 L193.6 254.2 L195.7 258.2" stroke="#111" stroke-width="1" fill="none"/>
<path d="M261.6 280.2C262.17 279.33 263.93 276.7 265 275C266.07 273.3 267 271.75 268 270C269 268.25 270.15 266.3 271 264.5C271.85 262.7 272.6 261.28 273.1 259.2C273.6 257.12 273.77 254.87 274 252C274.23 249.13 274.33 245 274.5 242C274.67 239 274.83 236.23 275 234C275.17 231.77 275.3 228.77 275.5 228.6C275.7 228.43 275.95 231.27 276.2 233C276.45 234.73 276.65 237.5 277 239C277.35 240.5 277.8 241.75 278.3 242C278.8 242.25 279.22 241.83 280 240.5C280.78 239.17 281.83 236.58 283 234C284.17 231.42 285.67 228 287 225C288.33 222 289.85 218.58 291 216C292.15 213.42 293.42 210.58 293.9 209.5" fill="none" stroke="#1a1a1a" stroke-width="1.1" stroke-linejoin="round"/>
<path d="M267.4 270 L278.2 251.5" stroke="#2a6ae6" stroke-width="0.9" fill="none"/>
<path d="M274.4 242.6 V268.7" stroke="#e8262a" stroke-width="0.9" fill="none"/>
<path d="M284 283.4 L276 259.8 M275.4 264 L276 259.8 L279.3 262.6" stroke="#3b86ee" stroke-width="0.8" fill="none"/>
<path d="M334.5 222.2 H313 V219.8 L304.5 224 L313 228.2 V225.8 H334.5 Z" fill="#2a2af2"/>
<text x="204.2" y="233.5" font-size="11.6" fill="#111">T<tspan font-size="8" dy="2.8">peak</tspan><tspan dy="-2.8">:1124.6°C</tspan></text>
<text x="221.8" y="299.4" font-size="11.8" fill="#111">T<tspan font-size="8" dy="2.8">onset</tspan><tspan dy="-2.8">:1112.5°C</tspan></text>
<text x="287.5" y="246.5" font-size="11.3" fill="#222" class="cjk">T<tspan font-size="8" dy="2.5">end</tspan><tspan dy="-2.5" dx="0.5">：</tspan></text>
<text x="287.5" y="262.5" font-size="11.3" fill="#222" class="cjk" textLength="45" lengthAdjust="spacing">1132. 2℃</text>
</g>
</svg>
</body></html>
